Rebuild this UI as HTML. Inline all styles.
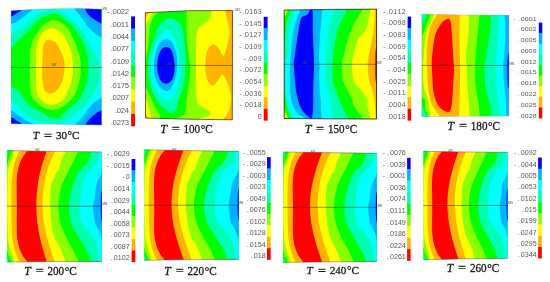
<!DOCTYPE html>
<html><head><meta charset="utf-8"><style>
html,body{margin:0;padding:0;background:#fff;}
svg{display:block;}
.lab{font-family:"Liberation Sans",sans-serif;text-anchor:middle;}
.mk{font-family:"Liberation Sans",sans-serif;font-size:3px;fill:#444;}
.cap{font-family:"Liberation Serif",serif;font-size:12.2px;fill:#1a1a1a;stroke:#1a1a1a;stroke-width:0.3px;}
.it{font-style:italic;}
</style></head><body>
<svg width="550" height="282" viewBox="0 0 550 282">
<defs><filter id="soft" x="0" y="0" width="550" height="282" filterUnits="userSpaceOnUse"><feGaussianBlur stdDeviation="0.5"/></filter></defs>
<rect width="550" height="282" fill="#fff"/>
<g filter="url(#soft)">
<clipPath id="clip0"><path d="M11.1 10.7 L35 9.3 L58 8.4 L80 8.5 L101.6 9.2 L101.6 125 L55 124.4 L11.1 123.7Z"/></clipPath>
<g clip-path="url(#clip0)">
<path d="M11.1 10.7 L35 9.3 L58 8.4 L80 8.5 L101.6 9.2 L101.6 125 L55 124.4 L11.1 123.7Z" fill="#00ffff"/>
<path d="M34 6 C33.75 6.58 33.58 8.25 32.5 9.5 C31.42 10.75 29.22 12.03 27.5 13.5 C25.78 14.97 24.12 16.88 22.2 18.3 C20.28 19.72 17.85 21.05 16 22 C14.15 22.95 12.43 23.42 11.1 24 C9.77 24.58 8.52 25.25 8 25.5 L5 25.5 L5 5 L34 5Z" fill="#00b2ff"/>
<path d="M23 6 C22.8 6.67 22.88 8.75 21.8 10 C20.72 11.25 18.28 12.37 16.5 13.5 C14.72 14.63 12.52 15.97 11.1 16.8 C9.68 17.63 8.52 18.22 8 18.5 L5 18.5 L5 5 L23 5Z" fill="#0000ff"/>
<path d="M73.5 5 C73.65 5.57 73.27 6.58 74.4 8.4 C75.53 10.22 78.07 12.92 80.3 15.9 C82.53 18.88 85.32 23.32 87.8 26.3 C90.28 29.28 92.9 31.93 95.2 33.8 C97.5 35.67 99.97 36.63 101.6 37.5 C103.23 38.37 104.43 38.75 105 39 L108 39 L108 5Z" fill="#00b2ff"/>
<path d="M85 5 C85.08 5.67 85.17 7.67 85.5 9 C85.83 10.33 85.88 11.48 87 13 C88.12 14.52 90.33 16.62 92.2 18.1 C94.07 19.58 96.63 21.02 98.2 21.9 C99.77 22.78 100.47 22.97 101.6 23.4 C102.73 23.83 104.43 24.32 105 24.5 L108 24.5 L108 5Z" fill="#0000ff"/>
<path d="M5 109 C6.02 109.22 8.6 109.05 11.1 110.3 C13.6 111.55 17.18 114.63 20 116.5 C22.82 118.37 25.72 120.2 28 121.5 C30.28 122.8 32.37 123.22 33.7 124.3 C35.03 125.38 35.62 127.38 36 128 L5 128Z" fill="#00b2ff"/>
<path d="M5 116 C6.02 116.17 9.18 116.25 11.1 117 C13.02 117.75 14.7 119.33 16.5 120.5 C18.3 121.67 20.82 122.75 21.9 124 C22.98 125.25 22.82 127.33 23 128 L5 128Z" fill="#0000ff"/>
<path d="M108 96 C106.93 96.28 103.98 96.55 101.6 97.7 C99.22 98.85 96 100.92 93.7 102.9 C91.4 104.88 89.78 107.12 87.8 109.6 C85.82 112.08 83.78 115.45 81.8 117.8 C79.82 120.15 77.2 122 75.9 123.7 C74.6 125.4 74.32 127.28 74 128 L108 128Z" fill="#00b2ff"/>
<path d="M108 109.5 C106.93 109.63 103.73 109.55 101.6 110.3 C99.47 111.05 97.25 112.5 95.2 114 C93.15 115.5 90.92 117.47 89.3 119.3 C87.68 121.13 86.22 123.55 85.5 125 C84.78 126.45 85.08 127.5 85 128 L108 128Z" fill="#0000ff"/>
<path d="M5 34 C6.02 34 9.35 34.42 11.1 34 C12.85 33.58 13.38 32.92 15.5 31.5 C17.62 30.08 20.88 27.83 23.8 25.5 C26.72 23.17 30.53 19.58 33 17.5 C35.47 15.42 36.6 14.12 38.6 13 C40.6 11.88 42.77 11.27 45 10.8 C47.23 10.33 49.67 10.25 52 10.2 C54.33 10.15 56.25 9.45 59 10.5 C61.75 11.55 65.67 14.42 68.5 16.5 C71.33 18.58 74 21 76 23 C78 25 79.07 26.58 80.5 28.5 C81.93 30.42 83.35 32.42 84.6 34.5 C85.85 36.58 86.77 38.67 88 41 C89.23 43.33 90.75 46.25 92 48.5 C93.25 50.75 94.42 52.5 95.5 54.5 C96.58 56.5 97.75 58.42 98.5 60.5 C99.25 62.58 99.83 64.08 100 67 C100.17 69.92 99.93 74.83 99.5 78 C99.07 81.17 98.37 83.43 97.4 86 C96.43 88.57 95.38 90.63 93.7 93.4 C92.02 96.17 89.25 100.17 87.3 102.6 C85.35 105.03 83.7 106.43 82 108 C80.3 109.57 79.43 110.08 77.1 112 C74.77 113.92 70.52 117.67 68 119.5 C65.48 121.33 64.17 122.28 62 123 C59.83 123.72 57.52 123.8 55 123.8 C52.48 123.8 49.78 123.53 46.9 123 C44.02 122.47 40.77 121.77 37.7 120.6 C34.63 119.43 31.58 118.18 28.5 116 C25.42 113.82 22.1 109.88 19.2 107.5 C16.3 105.12 13.47 102.67 11.1 101.7 C8.73 100.73 6.02 101.7 5 101.7Z" fill="#00ffb2"/>
<path d="M5 48 C6.02 48 9.18 49 11.1 48 C13.02 47 14.6 44 16.5 42 C18.4 40 20.5 37.92 22.5 36 C24.5 34.08 26.67 32.42 28.5 30.5 C30.33 28.58 31.67 26.37 33.5 24.5 C35.33 22.63 37.27 20.78 39.5 19.3 C41.73 17.82 44.65 16.48 46.9 15.6 C49.15 14.72 50.98 14.18 53 14 C55.02 13.82 57.17 13.67 59 14.5 C60.83 15.33 62.12 17.45 64 19 C65.88 20.55 68.47 22.13 70.3 23.8 C72.13 25.47 73.63 27.13 75 29 C76.37 30.87 77.32 33.17 78.5 35 C79.68 36.83 80.93 37.83 82.1 40 C83.27 42.17 84.6 45.33 85.5 48 C86.4 50.67 86.98 53 87.5 56 C88.02 59 88.48 62.67 88.6 66 C88.72 69.33 88.73 72.67 88.2 76 C87.67 79.33 86.47 82.8 85.4 86 C84.33 89.2 83.48 92.28 81.8 95.2 C80.12 98.12 77.52 101.2 75.3 103.5 C73.08 105.8 70.38 107.42 68.5 109 C66.62 110.58 65.42 111.58 64 113 C62.58 114.42 61.5 116.53 60 117.5 C58.5 118.47 56.42 118.75 55 118.8 C53.58 118.85 53.62 118.77 51.5 117.8 C49.38 116.83 45.38 114.72 42.3 113 C39.22 111.28 35.3 109 33 107.5 C30.7 106 30.03 105.47 28.5 104 C26.97 102.53 25.35 100.73 23.8 98.7 C22.25 96.67 20.83 93.58 19.2 91.8 C17.57 90.02 15.35 88.8 14 88 C12.65 87.2 12.6 87.17 11.1 87 C9.6 86.83 6.02 87 5 87Z" fill="#00ff00"/>
<path d="M29.8 60 C29.92 55.5 29.97 51.33 30.5 48 C31.03 44.67 31.95 42.33 33 40 C34.05 37.67 35.25 36.37 36.8 34 C38.35 31.63 40.15 27.93 42.3 25.8 C44.45 23.67 47.58 22.1 49.7 21.2 C51.82 20.3 53.28 20.3 55 20.4 C56.72 20.5 58.17 20.78 60 21.8 C61.83 22.82 64.25 24.63 66 26.5 C67.75 28.37 69.2 30.75 70.5 33 C71.8 35.25 72.72 37.5 73.8 40 C74.88 42.5 76.05 45.33 77 48 C77.95 50.67 78.87 53 79.5 56 C80.13 59 80.72 62.33 80.8 66 C80.88 69.67 80.47 74.67 80 78 C79.53 81.33 78.93 83.13 78 86 C77.07 88.87 76.23 92.28 74.4 95.2 C72.57 98.12 69.23 101.4 67 103.5 C64.77 105.6 63 106.75 61 107.8 C59 108.85 57.67 109.72 55 109.8 C52.33 109.88 48.03 109.5 45 108.3 C41.97 107.1 39.05 104.78 36.8 102.6 C34.55 100.42 32.58 97.97 31.5 95.2 C30.42 92.43 30.58 89.37 30.3 86 C30.02 82.63 29.88 79.33 29.8 75 C29.72 70.67 29.68 64.5 29.8 60Z" fill="#8aff00"/>
<path d="M35.9 60 C36 55.5 36.07 51.33 36.5 48 C36.93 44.67 37.68 42.33 38.5 40 C39.32 37.67 40.32 35.5 41.4 34 C42.48 32.5 43.78 31.8 45 31 C46.22 30.2 47.37 29.67 48.7 29.2 C50.03 28.73 51.53 28.1 53 28.2 C54.47 28.3 56.08 29 57.5 29.8 C58.92 30.6 60.33 31.8 61.5 33 C62.67 34.2 63.67 35.75 64.5 37 C65.33 38.25 65.67 38.83 66.5 40.5 C67.33 42.17 68.67 44.75 69.5 47 C70.33 49.25 70.93 50.83 71.5 54 C72.07 57.17 72.73 62.33 72.9 66 C73.07 69.67 73.02 72.67 72.5 76 C71.98 79.33 70.72 83.25 69.8 86 C68.88 88.75 67.93 90.5 67 92.5 C66.07 94.5 65.37 96.37 64.2 98 C63.03 99.63 61.53 101.25 60 102.3 C58.47 103.35 56.72 103.93 55 104.3 C53.28 104.67 51.45 104.8 49.7 104.5 C47.95 104.2 46.03 103.42 44.5 102.5 C42.97 101.58 41.63 100.22 40.5 99 C39.37 97.78 38.37 97.03 37.7 95.2 C37.03 93.37 36.8 91.37 36.5 88 C36.2 84.63 36 79.67 35.9 75 C35.8 70.33 35.8 64.5 35.9 60Z" fill="#ffff00"/>
<path d="M42.5 60 C42.63 56.33 42.58 50.92 43 48 C43.42 45.08 44.13 43.88 45 42.5 C45.87 41.12 46.87 39.95 48.2 39.7 C49.53 39.45 51.53 40.28 53 41 C54.47 41.72 55.67 42.17 57 44 C58.33 45.83 59.83 49.33 61 52 C62.17 54.67 63.38 57.5 64 60 C64.62 62.5 64.78 64.33 64.7 67 C64.62 69.67 64.12 73.17 63.5 76 C62.88 78.83 62.08 81.67 61 84 C59.92 86.33 58.5 88.42 57 90 C55.5 91.58 53.58 93 52 93.5 C50.42 94 48.83 93.75 47.5 93 C46.17 92.25 44.83 91.17 44 89 C43.17 86.83 42.8 83.17 42.5 80 C42.2 76.83 42.2 73.33 42.2 70 C42.2 66.67 42.37 63.67 42.5 60Z" fill="#ffb200"/>
</g>
<path d="M11.1 10.7 L35 9.3 L58 8.4 L80 8.5 L101.6 9.2 L101.6 125 L55 124.4 L11.1 123.7Z" fill="none" stroke="#999" stroke-width="0.4"/>
<line x1="11.1" y1="67.5" x2="101.6" y2="67.5" stroke="#000" stroke-opacity="0.5" stroke-width="0.85"/>
<text x="52" y="66.3" class="mk">MX</text>
<text x="102.3" y="9.8" class="mk">MN</text>
<rect x="131.1" y="16.4" width="3.9" height="12.48" fill="#0000ff"/>
<rect x="131.1" y="28.58" width="3.9" height="12.48" fill="#00b2ff"/>
<rect x="131.1" y="40.76" width="3.9" height="12.48" fill="#00ffff"/>
<rect x="131.1" y="52.94" width="3.9" height="12.48" fill="#00ffb2"/>
<rect x="131.1" y="65.12" width="3.9" height="12.48" fill="#00ff00"/>
<rect x="131.1" y="77.3" width="3.9" height="12.48" fill="#8aff00"/>
<rect x="131.1" y="89.48" width="3.9" height="12.48" fill="#ffff00"/>
<rect x="131.1" y="101.66" width="3.9" height="12.48" fill="#ffb200"/>
<rect x="131.1" y="113.84" width="3.9" height="12.48" fill="#ff0000"/>
<text transform="scale(1.12,1)" x="96.92 99.96 102.46 106.09 109.73 113.36" y="14.37" class="lab" font-size="6.9" fill="#5a5a5a">-.0022</text>
<text transform="scale(1.12,1)" x="99.96 102.46 106.09 109.73 113.36" y="26.67" class="lab" font-size="6.9" fill="#5a5a5a">.0011</text>
<text transform="scale(1.12,1)" x="99.96 102.46 106.09 109.73 113.36" y="38.97" class="lab" font-size="6.9" fill="#5a5a5a">.0044</text>
<text transform="scale(1.12,1)" x="99.96 102.46 106.09 109.73 113.36" y="51.27" class="lab" font-size="6.9" fill="#5a5a5a">.0077</text>
<text transform="scale(1.12,1)" x="99.96 102.46 106.09 109.73 113.36" y="63.57" class="lab" font-size="6.9" fill="#5a5a5a">.0109</text>
<text transform="scale(1.12,1)" x="99.96 102.46 106.09 109.73 113.36" y="75.87" class="lab" font-size="6.9" fill="#5a5a5a">.0142</text>
<text transform="scale(1.12,1)" x="99.96 102.46 106.09 109.73 113.36" y="88.17" class="lab" font-size="6.9" fill="#5a5a5a">.0175</text>
<text transform="scale(1.12,1)" x="99.96 102.46 106.09 109.73 113.36" y="100.47" class="lab" font-size="6.9" fill="#5a5a5a">.0207</text>
<text transform="scale(1.12,1)" x="103.59 106.09 109.73 113.36" y="112.77" class="lab" font-size="6.9" fill="#5a5a5a">.024</text>
<text transform="scale(1.12,1)" x="99.96 102.46 106.09 109.73 113.36" y="125.07" class="lab" font-size="6.9" fill="#5a5a5a">.0273</text>
<text y="138.8" class="cap" style="font-size:11.3px"><tspan x="32.7" class="it">T</tspan><tspan x="44.1" textLength="8" lengthAdjust="spacingAndGlyphs">=</tspan><tspan x="55.9" textLength="11.1" lengthAdjust="spacingAndGlyphs">30</tspan><tspan x="67.6" textLength="12" lengthAdjust="spacingAndGlyphs">°C</tspan></text>
<clipPath id="clip1"><path d="M145.3 12.7 L190 10.7 L232.5 10.5 L232.3 119.8 L190 119.2 L145.5 118.1Z"/></clipPath>
<g clip-path="url(#clip1)">
<path d="M145.3 12.7 L190 10.7 L232.5 10.5 L232.3 119.8 L190 119.2 L145.5 118.1Z" fill="#ffff00"/>
<path d="M225 5 C225.03 5.93 224.95 8.6 225.2 10.6 C225.45 12.6 225.93 14.6 226.5 17 C227.07 19.4 228.1 22.5 228.6 25 C229.1 27.5 229.48 29.5 229.5 32 C229.52 34.5 229.2 37.33 228.7 40 C228.2 42.67 227.38 45.37 226.5 48 C225.62 50.63 224.57 55.55 223.4 55.8 C222.23 56.05 220.73 51.22 219.5 49.5 C218.27 47.78 217.17 46.3 216 45.5 C214.83 44.7 213.75 44.28 212.5 44.7 C211.25 45.12 209.58 46.28 208.5 48 C207.42 49.72 206.53 52.17 206 55 C205.47 57.83 205.3 61.67 205.3 65 C205.3 68.33 205.5 72.25 206 75 C206.5 77.75 207.3 79.75 208.3 81.5 C209.3 83.25 210.72 85.25 212 85.5 C213.28 85.75 214.78 84.17 216 83 C217.22 81.83 218.22 79.9 219.3 78.5 C220.38 77.1 221.28 74.22 222.5 74.6 C223.72 74.98 225.45 78.45 226.6 80.8 C227.75 83.15 228.65 85.83 229.4 88.7 C230.15 91.57 230.9 95.78 231.1 98 C231.3 100.22 230.92 100 230.6 102 C230.28 104 230.03 107.67 229.2 110 C228.37 112.33 226.58 114.38 225.6 116 C224.62 117.62 223.73 118.2 223.3 119.7 C222.87 121.2 223.05 124.12 223 125 L240 125 L240 5Z" fill="#ffb200"/>
<path d="M211.5 5 C211.42 5.92 211.08 9 211 10.5 C210.92 12 211.1 12.88 211 14 C210.9 15.12 210.82 16.12 210.4 17.2 C209.98 18.28 209.72 19.27 208.5 20.5 C207.28 21.73 204.77 23.3 203.1 24.6 C201.43 25.9 199.58 26.73 198.5 28.3 C197.42 29.87 197.02 31.22 196.6 34 C196.18 36.78 196.1 39.83 196 45 C195.9 50.17 195.95 58.33 196 65 C196.05 71.67 196.23 79.83 196.3 85 C196.37 90.17 196.08 92.93 196.4 96 C196.72 99.07 196.98 101.4 198.2 103.4 C199.42 105.4 201.7 106.62 203.7 108 C205.7 109.38 209.27 110.47 210.2 111.7 C211.13 112.93 210.68 114.33 209.3 115.4 C207.92 116.47 204.12 117.33 201.9 118.1 C199.68 118.87 197.15 118.85 196 120 C194.85 121.15 195.17 124.17 195 125 L140 125 L140 5Z" fill="#8aff00"/>
<path d="M186.5 5 C186.5 5.95 186.5 7.37 186.5 10.7 C186.5 14.03 186.33 19.28 186.5 25 C186.67 30.72 187.03 39.17 187.5 45 C187.97 50.83 188.88 56.67 189.3 60 C189.72 63.33 189.97 61.67 190 65 C190.03 68.33 189.92 75.5 189.5 80 C189.08 84.5 188.05 87.83 187.5 92 C186.95 96.17 186.72 101.33 186.2 105 C185.68 108.67 185.6 111.92 184.4 114 C183.2 116.08 180.9 116.58 179 117.5 C177.1 118.42 174.17 118.25 173 119.5 C171.83 120.75 172.17 124.08 172 125 L160.5 125 C160.5 124.17 160.67 121.75 160.5 120 C160.33 118.25 160.08 116.17 159.5 114.5 C158.92 112.83 158 111.75 157 110 C156 108.25 154.62 106.33 153.5 104 C152.38 101.67 151.3 98.17 150.3 96 C149.3 93.83 148.33 92.5 147.5 91 C146.67 89.5 146.55 87.67 145.3 87 C144.05 86.33 140.88 87 140 87 L140 58 C140.88 58 144.05 59.33 145.3 58 C146.55 56.67 146.95 52.67 147.5 50 C148.05 47.33 148.28 44.67 148.6 42 C148.92 39.33 149.08 36.83 149.4 34 C149.72 31.17 149.82 27.83 150.5 25 C151.18 22.17 152.25 19.25 153.5 17 C154.75 14.75 157.17 13.5 158 11.5 C158.83 9.5 158.42 6.08 158.5 5Z" fill="#00ff00"/>
<path d="M171 18.3 C173.33 18.47 176.17 19.88 178 21.5 C179.83 23.12 180.92 24.92 182 28 C183.08 31.08 183.93 35.5 184.5 40 C185.07 44.5 185.25 50.83 185.4 55 C185.55 59.17 185.55 61.17 185.4 65 C185.25 68.83 184.98 73.83 184.5 78 C184.02 82.17 183.28 87 182.5 90 C181.72 93 180.72 93.17 179.8 96 C178.88 98.83 178.08 104.27 177 107 C175.92 109.73 174.38 111.4 173.3 112.4 C172.22 113.4 171.72 113.48 170.5 113 C169.28 112.52 167.67 110.8 166 109.5 C164.33 108.2 162.25 107.12 160.5 105.2 C158.75 103.28 157.08 100.87 155.5 98 C153.92 95.13 152.18 91.67 151 88 C149.82 84.33 148.9 79.83 148.4 76 C147.9 72.17 147.9 68.33 148 65 C148.1 61.67 148.42 59.17 149 56 C149.58 52.83 150.42 49.67 151.5 46 C152.58 42.33 154.25 37.33 155.5 34 C156.75 30.67 157.58 28.25 159 26 C160.42 23.75 162 21.78 164 20.5 C166 19.22 168.67 18.13 171 18.3Z" fill="#00ffb2"/>
<path d="M167.5 29.2 C169.18 29.28 170.98 31.87 172.4 34 C173.82 36.13 174.93 39 176 42 C177.07 45 178.17 48.17 178.8 52 C179.43 55.83 179.7 61.17 179.8 65 C179.9 68.83 179.78 71.5 179.4 75 C179.02 78.5 178.35 82.67 177.5 86 C176.65 89.33 175.47 92.75 174.3 95 C173.13 97.25 171.63 98.57 170.5 99.5 C169.37 100.43 168.58 100.55 167.5 100.6 C166.42 100.65 165.17 100.57 164 99.8 C162.83 99.03 162 97.8 160.5 96 C159 94.2 156.45 91.67 155 89 C153.55 86.33 152.5 83.17 151.8 80 C151.1 76.83 150.93 73.33 150.8 70 C150.67 66.67 150.55 63.33 151 60 C151.45 56.67 152.5 53.17 153.5 50 C154.5 46.83 155.53 43.75 157 41 C158.47 38.25 160.55 35.47 162.3 33.5 C164.05 31.53 165.82 29.12 167.5 29.2Z" fill="#00ffff"/>
<path d="M167 39.2 C168.5 39.37 170.17 39.87 171.5 41.5 C172.83 43.13 174.08 46.25 175 49 C175.92 51.75 176.65 55.33 177 58 C177.35 60.67 177.18 62.67 177.1 65 C177.02 67.33 176.82 69.83 176.5 72 C176.18 74.17 175.78 75.83 175.2 78 C174.62 80.17 173.87 83.08 173 85 C172.13 86.92 171 88.52 170 89.5 C169 90.48 168.08 90.82 167 90.9 C165.92 90.98 164.83 90.82 163.5 90 C162.17 89.18 160.33 87.83 159 86 C157.67 84.17 156.33 81.67 155.5 79 C154.67 76.33 154.25 72.83 154 70 C153.75 67.17 153.75 64.83 154 62 C154.25 59.17 154.75 55.83 155.5 53 C156.25 50.17 157.33 47.08 158.5 45 C159.67 42.92 161.08 41.47 162.5 40.5 C163.92 39.53 165.5 39.03 167 39.2Z" fill="#00b2ff"/>
<path d="M166 47.1 C167.33 47.18 169.27 47.52 170.5 49 C171.73 50.48 172.7 53.33 173.4 56 C174.1 58.67 174.57 62.17 174.7 65 C174.83 67.83 174.57 70.67 174.2 73 C173.83 75.33 173.28 77.42 172.5 79 C171.72 80.58 170.58 81.75 169.5 82.5 C168.42 83.25 167.17 83.5 166 83.5 C164.83 83.5 163.58 83.42 162.5 82.5 C161.42 81.58 160.33 79.92 159.5 78 C158.67 76.08 157.88 73.17 157.5 71 C157.12 68.83 157.12 67.17 157.2 65 C157.28 62.83 157.53 60.17 158 58 C158.47 55.83 159.25 53.58 160 52 C160.75 50.42 161.5 49.32 162.5 48.5 C163.5 47.68 164.67 47.02 166 47.1Z" fill="#0000ff"/>
<path d="M153 5 C152.97 6.27 153.3 10.52 152.8 12.6 C152.3 14.68 150.97 15.77 150 17.5 C149.03 19.23 147.78 21.5 147 23 C146.22 24.5 146.47 25.92 145.3 26.5 C144.13 27.08 140.88 26.5 140 26.5 L140 5Z" fill="#ffff00"/>
<path d="M148.2 5 C148.17 6.3 148.2 11.05 148 12.8 C147.8 14.55 147.45 14.73 147 15.5 C146.55 16.27 146.47 17.08 145.3 17.4 C144.13 17.72 140.88 17.4 140 17.4 L140 5Z" fill="#ffb200"/>
<path d="M140 100 C140.9 100.08 144.15 99.83 145.4 100.5 C146.65 101.17 146.82 102.25 147.5 104 C148.18 105.75 148.8 108.65 149.5 111 C150.2 113.35 151.28 115.77 151.7 118.1 C152.12 120.43 151.95 123.85 152 125 L140 125Z" fill="#ffff00"/>
<path d="M140 113.3 C140.92 113.3 144.33 112.85 145.5 113.3 C146.67 113.75 146.58 115.18 147 116 C147.42 116.82 147.83 116.7 148 118.2 C148.17 119.7 148 123.87 148 125 L140 125Z" fill="#ffb200"/>
</g>
<path d="M145.3 12.7 L190 10.7 L232.5 10.5 L232.3 119.8 L190 119.2 L145.5 118.1Z" fill="none" stroke="#3a2510" stroke-width="0.7"/>
<line x1="145.3" y1="65.4" x2="232.5" y2="65.4" stroke="#000" stroke-opacity="0.5" stroke-width="0.85"/>
<text x="166.5" y="64.6" class="mk">MN</text>
<text x="235.5" y="11" class="mk">MX</text>
<rect x="263.7" y="16.8" width="3.9" height="11.81" fill="#0000ff"/>
<rect x="263.7" y="28.31" width="3.9" height="11.81" fill="#00b2ff"/>
<rect x="263.7" y="39.82" width="3.9" height="11.81" fill="#00ffff"/>
<rect x="263.7" y="51.33" width="3.9" height="11.81" fill="#00ffb2"/>
<rect x="263.7" y="62.84" width="3.9" height="11.81" fill="#00ff00"/>
<rect x="263.7" y="74.35" width="3.9" height="11.81" fill="#8aff00"/>
<rect x="263.7" y="85.86" width="3.9" height="11.81" fill="#ffff00"/>
<rect x="263.7" y="97.37" width="3.9" height="11.81" fill="#ffb200"/>
<rect x="263.7" y="108.88" width="3.9" height="11.81" fill="#ff0000"/>
<text transform="scale(1.12,1)" x="214.58 217.88 220.47 224.26 228.06 231.85" y="14.26" class="lab" font-size="6.3" fill="#5a5a5a">-.0163</text>
<text transform="scale(1.12,1)" x="214.58 217.88 220.47 224.26 228.06 231.85" y="25.87" class="lab" font-size="6.3" fill="#5a5a5a">-.0145</text>
<text transform="scale(1.12,1)" x="214.58 217.88 220.47 224.26 228.06 231.85" y="37.48" class="lab" font-size="6.3" fill="#5a5a5a">-.0127</text>
<text transform="scale(1.12,1)" x="214.58 217.88 220.47 224.26 228.06 231.85" y="49.09" class="lab" font-size="6.3" fill="#5a5a5a">-.0109</text>
<text transform="scale(1.12,1)" x="218.37 221.67 224.26 228.06 231.85" y="60.7" class="lab" font-size="6.3" fill="#5a5a5a">-.009</text>
<text transform="scale(1.12,1)" x="214.58 217.88 220.47 224.26 228.06 231.85" y="72.31" class="lab" font-size="6.3" fill="#5a5a5a">-.0072</text>
<text transform="scale(1.12,1)" x="214.58 217.88 220.47 224.26 228.06 231.85" y="83.92" class="lab" font-size="6.3" fill="#5a5a5a">-.0054</text>
<text transform="scale(1.12,1)" x="214.58 217.88 220.47 224.26 228.06 231.85" y="95.53" class="lab" font-size="6.3" fill="#5a5a5a">-.0036</text>
<text transform="scale(1.12,1)" x="214.58 217.88 220.47 224.26 228.06 231.85" y="107.14" class="lab" font-size="6.3" fill="#5a5a5a">-.0018</text>
<text transform="scale(1.12,1)" x="231.85" y="118.76" class="lab" font-size="6.3" fill="#5a5a5a">0</text>
<text y="133.3" class="cap" style="font-size:12.2px"><tspan x="160.3" class="it">T</tspan><tspan x="171.7" textLength="8" lengthAdjust="spacingAndGlyphs">=</tspan><tspan x="183.5" textLength="16.65" lengthAdjust="spacingAndGlyphs">100</tspan><tspan x="200.75" textLength="12" lengthAdjust="spacingAndGlyphs">°C</tspan></text>
<clipPath id="clip2"><path d="M284.2 10.1 L330 9.4 L376.5 9.2 L376.5 119 L330 118.8 L284.2 118.5Z"/></clipPath>
<g clip-path="url(#clip2)">
<path d="M284.2 10.1 L330 9.4 L376.5 9.2 L376.5 119 L330 118.8 L284.2 118.5Z" fill="#00ffff"/>
<path d="M333.5 5 C333.5 5.83 334.33 5.83 333.5 10 C332.67 14.17 329.73 22.33 328.5 30 C327.27 37.67 326.52 50.33 326.1 56 C325.68 61.67 326.02 59.83 326 64 C325.98 68.17 325.37 75.33 326 81 C326.63 86.67 328.63 92 329.8 98 C330.97 104 332.3 112.5 333 117 C333.7 121.5 333.83 123.67 334 125 L380 125 L380 5Z" fill="#00ffb2"/>
<path d="M347.5 5 C347.4 5.83 348.55 5.83 346.9 10 C345.25 14.17 339.9 22.33 337.6 30 C335.3 37.67 333.93 50.33 333.1 56 C332.27 61.67 332.62 59.83 332.6 64 C332.58 68.17 332 75.33 333 81 C334 86.67 337.13 93.83 338.6 98 C340.07 102.17 340.42 102.92 341.8 106 C343.18 109.08 345.87 113.33 346.9 116.5 C347.93 119.67 347.82 123.58 348 125 L380 125 L380 5Z" fill="#00ff00"/>
<path d="M363 5 C362.85 5.83 364.08 5.83 362.1 10 C360.12 14.17 354.22 22.33 351.1 30 C347.98 37.67 344.95 50.33 343.4 56 C341.85 61.67 341.83 59.83 341.8 64 C341.77 68.17 341.58 75.33 343.2 81 C344.82 86.67 349.7 93.83 351.5 98 C353.3 102.17 352.3 102.92 354 106 C355.7 109.08 360.2 113.33 361.7 116.5 C363.2 119.67 362.78 123.58 363 125 L380 125 L380 5Z" fill="#8aff00"/>
<path d="M371 5 C370.9 5.83 371.27 5.83 370.4 10 C369.53 14.17 367.8 25.17 365.8 30 C363.8 34.83 360.48 34.67 358.4 39 C356.32 43.33 354.37 51.83 353.3 56 C352.23 60.17 351.92 59.83 352 64 C352.08 68.17 352.47 76.83 353.8 81 C355.13 85.17 357.85 86.17 360 89 C362.15 91.83 365.45 95.17 366.7 98 C367.95 100.83 366.95 102.92 367.5 106 C368.05 109.08 369.42 113.33 370 116.5 C370.58 119.67 370.83 123.58 371 125 L380 125 L380 5Z" fill="#ffff00"/>
<path d="M375.2 5 C375.17 5.83 375.25 5.83 375 10 C374.75 14.17 374.37 24.17 373.7 30 C373.03 35.83 371.85 40.67 371 45 C370.15 49.33 369.15 52.83 368.6 56 C368.05 59.17 367.63 60 367.7 64 C367.77 68 368.23 75.83 369 80 C369.77 84.17 371.45 86 372.3 89 C373.15 92 373.65 95.17 374.1 98 C374.55 100.83 374.77 102.92 375 106 C375.23 109.08 375.33 113.33 375.5 116.5 C375.67 119.67 375.92 123.58 376 125 L380 125 L380 5Z" fill="#ffb200"/>
<path d="M378 42 C377.6 43.33 376.07 46.33 375.6 50 C375.13 53.67 375.22 59 375.2 64 C375.18 69 375.03 76.33 375.5 80 C375.97 83.67 377.58 85 378 86 L380 86 L380 42Z" fill="#ff0000"/>
<path d="M295 5 C294.8 6 294.72 6.83 293.8 11 C292.88 15.17 290.5 22.5 289.5 30 C288.5 37.5 288.47 50.33 287.8 56 C287.13 61.67 285.88 60 285.5 64 C285.12 68 285.33 74.38 285.5 80 C285.67 85.62 285.88 92.6 286.5 97.7 C287.12 102.8 287.98 107.17 289.2 110.6 C290.42 114.03 292.83 115.9 293.8 118.3 C294.77 120.7 294.8 123.88 295 125 L280 125 L280 5Z" fill="#00ffb2"/>
<path d="M291 5 C290.85 6 290.68 8.5 290.1 11 C289.52 13.5 288.22 16.83 287.5 20 C286.78 23.17 286.28 25.83 285.8 30 C285.32 34.17 285.57 41.67 284.6 45 C283.63 48.33 280.77 49.17 280 50 L280 5Z" fill="#00ff00"/>
<path d="M280 90 C280.73 90.33 283.48 90.67 284.4 92 C285.32 93.33 285.08 95.67 285.5 98 C285.92 100.33 286.13 102.92 286.9 106 C287.67 109.08 289.42 113.33 290.1 116.5 C290.78 119.67 290.85 123.58 291 125 L280 125Z" fill="#00ff00"/>
<path d="M288 5 C287.92 6 287.92 9.17 287.5 11 C287.08 12.83 286.75 14.83 285.5 16 C284.25 17.17 280.92 17.67 280 18 L280 5Z" fill="#8aff00"/>
<path d="M287 5 C286.95 5.92 286.95 9.17 286.7 10.5 C286.45 11.83 285.92 12.33 285.5 13 C285.08 13.67 285.12 14.25 284.2 14.5 C283.28 14.75 280.7 14.5 280 14.5 L280 5Z" fill="#ffff00"/>
<path d="M280 109 C280.83 109.33 283.75 109.75 285 111 C286.25 112.25 286.92 114.17 287.5 116.5 C288.08 118.83 288.33 123.58 288.5 125 L280 125Z" fill="#8aff00"/>
<path d="M280 113.7 C280.75 113.7 283.42 113.15 284.5 113.7 C285.58 114.25 286.08 115.12 286.5 117 C286.92 118.88 286.92 123.67 287 125 L280 125Z" fill="#ffff00"/>
<path d="M322.4 5 C322.4 5.83 322.72 5.83 322.4 10 C322.08 14.17 321.07 22.33 320.5 30 C319.93 37.67 319.17 50.33 319 56 C318.83 61.67 319.47 59.83 319.5 64 C319.53 68.17 319.03 75.33 319.2 81 C319.37 86.67 320.2 93.83 320.5 98 C320.8 102.17 320.83 102.83 321 106 C321.17 109.17 321.42 113.83 321.5 117 C321.58 120.17 321.5 123.67 321.5 125 L305 125 C304.83 123.88 304.92 119.97 304 118.3 C303.08 116.63 300.73 115.98 299.5 115 C298.27 114.02 297.6 113.73 296.6 112.4 C295.6 111.07 294.27 108.53 293.5 107 C292.73 105.47 292.45 105.03 292 103.2 C291.55 101.37 291.12 98.45 290.8 96 C290.48 93.55 290.27 91.5 290.1 88.5 C289.93 85.5 289.8 82.08 289.8 78 C289.8 73.92 289.97 67.67 290.1 64 C290.23 60.33 290.08 61.67 290.6 56 C291.12 50.33 291.67 37.5 293.2 30 C294.73 22.5 298.5 15.17 299.8 11 C301.1 6.83 300.8 6 301 5Z" fill="#00b2ff"/>
<path d="M311 8 C311.83 7.63 312.4 8.33 312.7 12 C313 15.67 312.67 23.67 312.8 30 C312.93 36.33 313.3 44.33 313.5 50 C313.7 55.67 314 59 314 64 C314 69 313.63 74.83 313.5 80 C313.37 85.17 313.25 90.5 313.2 95 C313.15 99.5 313.32 103.83 313.2 107 C313.08 110.17 312.8 111.92 312.5 114 C312.2 116.08 311.9 118.9 311.4 119.5 C310.9 120.1 310.58 118.62 309.5 117.6 C308.42 116.58 306.43 115.18 304.9 113.4 C303.37 111.62 301.53 109.52 300.3 106.9 C299.07 104.28 298.27 100.77 297.5 97.7 C296.73 94.63 296.15 91.78 295.7 88.5 C295.25 85.22 295.12 82.08 294.8 78 C294.48 73.92 293.8 67.67 293.8 64 C293.8 60.33 294.27 60 294.8 56 C295.33 52 296.38 44.17 297 40 C297.62 35.83 298.03 33.75 298.5 31 C298.97 28.25 299.2 25.83 299.8 23.5 C300.4 21.17 300.78 18.55 302.1 17 C303.42 15.45 306.22 15.7 307.7 14.2 C309.18 12.7 310.17 8.37 311 8Z" fill="#0000ff"/>
</g>
<path d="M284.2 10.1 L330 9.4 L376.5 9.2 L376.5 119 L330 118.8 L284.2 118.5Z" fill="none" stroke="#2a1a10" stroke-width="0.8"/>
<line x1="284.2" y1="64.3" x2="376.5" y2="64.3" stroke="#000" stroke-opacity="0.5" stroke-width="0.85"/>
<text x="302.6" y="63.6" class="mk">MN</text>
<text x="377.2" y="63.6" class="mk">MX</text>
<rect x="407.6" y="16.6" width="3.5" height="11.83" fill="#0000ff"/>
<rect x="407.6" y="28.13" width="3.5" height="11.83" fill="#00b2ff"/>
<rect x="407.6" y="39.66" width="3.5" height="11.83" fill="#00ffff"/>
<rect x="407.6" y="51.19" width="3.5" height="11.83" fill="#00ffb2"/>
<rect x="407.6" y="62.72" width="3.5" height="11.83" fill="#00ff00"/>
<rect x="407.6" y="74.25" width="3.5" height="11.83" fill="#8aff00"/>
<rect x="407.6" y="85.78" width="3.5" height="11.83" fill="#ffff00"/>
<rect x="407.6" y="97.31" width="3.5" height="11.83" fill="#ffb200"/>
<rect x="407.6" y="108.84" width="3.5" height="11.83" fill="#ff0000"/>
<text transform="scale(1.12,1)" x="343.15 346.45 349.04 352.83 356.63 360.42" y="13.76" class="lab" font-size="6.3" fill="#5a5a5a">-.0112</text>
<text transform="scale(1.12,1)" x="343.15 346.45 349.04 352.83 356.63 360.42" y="25.42" class="lab" font-size="6.3" fill="#5a5a5a">-.0098</text>
<text transform="scale(1.12,1)" x="343.15 346.45 349.04 352.83 356.63 360.42" y="37.09" class="lab" font-size="6.3" fill="#5a5a5a">-.0083</text>
<text transform="scale(1.12,1)" x="343.15 346.45 349.04 352.83 356.63 360.42" y="48.76" class="lab" font-size="6.3" fill="#5a5a5a">-.0069</text>
<text transform="scale(1.12,1)" x="343.15 346.45 349.04 352.83 356.63 360.42" y="60.42" class="lab" font-size="6.3" fill="#5a5a5a">-.0054</text>
<text transform="scale(1.12,1)" x="346.94 350.25 352.83 356.63 360.42" y="72.09" class="lab" font-size="6.3" fill="#5a5a5a">-.004</text>
<text transform="scale(1.12,1)" x="343.15 346.45 349.04 352.83 356.63 360.42" y="83.76" class="lab" font-size="6.3" fill="#5a5a5a">-.0025</text>
<text transform="scale(1.12,1)" x="343.15 346.45 349.04 352.83 356.63 360.42" y="95.42" class="lab" font-size="6.3" fill="#5a5a5a">-.0011</text>
<text transform="scale(1.12,1)" x="346.45 349.04 352.83 356.63 360.42" y="107.09" class="lab" font-size="6.3" fill="#5a5a5a">.0004</text>
<text transform="scale(1.12,1)" x="346.45 349.04 352.83 356.63 360.42" y="118.76" class="lab" font-size="6.3" fill="#5a5a5a">.0018</text>
<text y="133" class="cap" style="font-size:12.2px"><tspan x="304.7" class="it">T</tspan><tspan x="316.1" textLength="8" lengthAdjust="spacingAndGlyphs">=</tspan><tspan x="327.9" textLength="16.65" lengthAdjust="spacingAndGlyphs">150</tspan><tspan x="345.15" textLength="12" lengthAdjust="spacingAndGlyphs">°C</tspan></text>
<clipPath id="clip3"><path d="M421.9 14.2 L440 14.6 L460 15 L508.9 15.2 L508.9 116.1 L460 116.3 L421.9 116.6Z"/></clipPath>
<g clip-path="url(#clip3)">
<path d="M421.9 14.2 L440 14.6 L460 15 L508.9 15.2 L508.9 116.1 L460 116.3 L421.9 116.6Z" fill="#ffff00"/>
<path d="M468.6 8 C468.6 9.33 468.6 11.67 468.6 16 C468.6 20.33 468.95 28.33 468.6 34 C468.25 39.67 466.93 45.67 466.5 50 C466.07 54.33 465.95 57.4 466 60 C466.05 62.6 466.6 61.77 466.8 65.6 C467 69.43 466.82 75.93 467.2 83 C467.58 90.07 468.72 102.5 469.1 108 C469.48 113.5 469.42 113.67 469.5 116 C469.58 118.33 469.58 121 469.6 122 L515 122 L515 8Z" fill="#8aff00"/>
<path d="M479.5 8 C479.45 9.38 479.48 11.97 479.2 16.3 C478.92 20.63 478.45 26.72 477.8 34 C477.15 41.28 475.75 54.73 475.3 60 C474.85 65.27 475.07 61.6 475.1 65.6 C475.13 69.6 475.1 78.6 475.5 84 C475.9 89.4 476.88 94 477.5 98 C478.12 102 478.87 105 479.2 108 C479.53 111 479.43 113.67 479.5 116 C479.57 118.33 479.58 121 479.6 122 L515 122 L515 8Z" fill="#00ff00"/>
<path d="M491.5 8 C491.45 9.38 491.52 11.97 491.2 16.3 C490.88 20.63 490.48 26.72 489.6 34 C488.72 41.28 486.73 54.73 485.9 60 C485.07 65.27 484.75 61.77 484.6 65.6 C484.45 69.43 484.43 77.77 485 83 C485.57 88.23 487.03 92.83 488 97 C488.97 101.17 490.27 104.83 490.8 108 C491.33 111.17 491.1 113.67 491.2 116 C491.3 118.33 491.37 121 491.4 122 L515 122 L515 8Z" fill="#00ffb2"/>
<path d="M499.3 8 C499.27 9.38 499.25 11.97 499.1 16.3 C498.95 20.63 498.95 26.72 498.4 34 C497.85 41.28 496.3 54.73 495.8 60 C495.3 65.27 495.37 61.77 495.4 65.6 C495.43 69.43 495.6 77.77 496 83 C496.4 88.23 497.22 92.83 497.8 97 C498.38 101.17 499.05 104.83 499.5 108 C499.95 111.17 500.28 113.67 500.5 116 C500.72 118.33 500.75 121 500.8 122 L515 122 L515 8Z" fill="#00ffff"/>
<path d="M504.4 8 C504.43 9.38 504.42 11.97 504.6 16.3 C504.78 20.63 505.65 26.72 505.5 34 C505.35 41.28 504.08 54.73 503.7 60 C503.32 65.27 503.15 61.77 503.2 65.6 C503.25 69.43 503.62 77.77 504 83 C504.38 88.23 505.13 92.83 505.5 97 C505.87 101.17 506.05 104.83 506.2 108 C506.35 111.17 506.35 113.67 506.4 116 C506.45 118.33 506.48 121 506.5 122 L515 122 L515 8Z" fill="#00b2ff"/>
<path d="M512 48 C511.48 48.67 509.67 50 508.9 52 C508.13 54 507.65 57.73 507.4 60 C507.15 62.27 507.33 61.6 507.4 65.6 C507.47 69.6 507.55 80.27 507.8 84 C508.05 87.73 508.2 87 508.9 88 C509.6 89 511.48 89.67 512 90 L515 90 L515 48Z" fill="#0000ff"/>
<path d="M435 8 C434.78 9.25 434.53 12.87 433.7 15.5 C432.87 18.13 431.35 20.55 430 23.8 C428.65 27.05 426.68 28.97 425.6 35 C424.52 41.03 423.92 54.9 423.5 60 C423.08 65.1 423.1 61.6 423.1 65.6 C423.1 69.6 423.1 79.43 423.5 84 C423.9 88.57 424.73 90.33 425.5 93 C426.27 95.67 427.5 97.5 428.1 100 C428.7 102.5 428.7 105.38 429.1 108 C429.5 110.62 430.18 113.37 430.5 115.7 C430.82 118.03 430.92 120.95 431 122 L415 122 L415 8Z" fill="#8aff00"/>
<path d="M432 8 C431.75 9.25 431.37 12.87 430.5 15.5 C429.63 18.13 428.03 20.72 426.8 23.8 C425.57 26.88 424.23 31.3 423.1 34 C421.97 36.7 420.52 39 420 40 L415 40 L415 8Z" fill="#00ff00"/>
<path d="M420 95 C420.5 95.5 422.18 97.17 423 98 C423.82 98.83 424.5 98.33 424.9 100 C425.3 101.67 424.87 105.38 425.4 108 C425.93 110.62 427.5 113.37 428.1 115.7 C428.7 118.03 428.85 120.95 429 122 L415 122Z" fill="#00ff00"/>
<path d="M427 8 C426.8 9.25 426.47 12.83 425.8 15.5 C425.13 18.17 423.72 21.92 423 24 C422.28 26.08 422.17 27 421.5 28 C420.83 29 419.42 29.67 419 30 L415 30 L415 8Z" fill="#00ffb2"/>
<path d="M419 103 C419.48 103.5 421.22 105.17 421.9 106 C422.58 106.83 422.58 107 423.1 108 C423.62 109 424.52 110.57 425 112 C425.48 113.43 425.75 114.93 426 116.6 C426.25 118.27 426.42 121.1 426.5 122 L415 122Z" fill="#00ffb2"/>
<path d="M424.8 8 C424.67 9.25 424.38 13.75 424 15.5 C423.62 17.25 422.85 17.78 422.5 18.5 C422.15 19.22 422.48 19.47 421.9 19.8 C421.32 20.13 419.48 20.38 419 20.5 L415 20.5 L415 8Z" fill="#00ffff"/>
<path d="M419 110 C419.48 110.17 421.15 110.05 421.9 111 C422.65 111.95 423.15 113.87 423.5 115.7 C423.85 117.53 423.92 120.95 424 122 L415 122Z" fill="#00ffff"/>
<path d="M459.5 8 C459.5 9.25 459.5 10.83 459.5 15.5 C459.5 20.17 459.42 28.58 459.5 36 C459.58 43.42 459.92 52 460 60 C460.08 68 460.08 77.33 460 84 C459.92 90.67 459.65 96 459.5 100 C459.35 104 459.18 105.33 459.1 108 C459.02 110.67 459.02 113.67 459 116 C458.98 118.33 459 121 459 122 L440 122 C439.85 120.92 439.85 117.4 439.1 115.5 C438.35 113.6 436.6 112.18 435.5 110.6 C434.4 109.02 433.28 107.53 432.5 106 C431.72 104.47 431.53 104.32 430.8 101.4 C430.07 98.48 428.72 93.73 428.1 88.5 C427.48 83.27 427.35 74.75 427.1 70 C426.85 65.25 426.6 64.18 426.6 60 C426.6 55.82 426.7 49.57 427.1 44.9 C427.5 40.23 428.22 35.68 429 32 C429.78 28.32 430.57 25.57 431.8 22.8 C433.03 20.03 435.2 17.87 436.4 15.4 C437.6 12.93 438.57 9.23 439 8Z" fill="#ffb200"/>
<path d="M449.3 19 C450.13 19.7 450.55 20.97 451 23.8 C451.45 26.63 451.58 29.97 452 36 C452.42 42.03 453.17 54.33 453.5 60 C453.83 65.67 454.08 65.25 454 70 C453.92 74.75 453.33 82.97 453 88.5 C452.67 94.03 452.47 99.52 452 103.2 C451.53 106.88 450.78 109.1 450.2 110.6 C449.62 112.1 449.37 112.13 448.5 112.2 C447.63 112.27 446.25 111.58 445 111 C443.75 110.42 442.25 109.87 441 108.7 C439.75 107.53 438.42 105.53 437.5 104 C436.58 102.47 436.2 101.67 435.5 99.5 C434.8 97.33 433.8 94.25 433.3 91 C432.8 87.75 432.75 84.17 432.5 80 C432.25 75.83 431.9 69.33 431.8 66 C431.7 62.67 431.75 62.6 431.9 60 C432.05 57.4 432.27 54.15 432.7 50.4 C433.13 46.65 433.92 40.57 434.5 37.5 C435.08 34.43 435.58 33.53 436.2 32 C436.82 30.47 437.48 29.55 438.2 28.3 C438.92 27.05 439.73 25.58 440.5 24.5 C441.27 23.42 441.88 22.62 442.8 21.8 C443.72 20.98 444.92 20.07 446 19.6 C447.08 19.13 448.47 18.3 449.3 19Z" fill="#ff0000"/>
</g>
<path d="M421.9 14.2 L440 14.6 L460 15 L508.9 15.2 L508.9 116.1 L460 116.3 L421.9 116.6Z" fill="none" stroke="#999" stroke-width="0.4"/>
<line x1="421.9" y1="65.4" x2="508.9" y2="65.4" stroke="#000" stroke-opacity="0.5" stroke-width="0.85"/>
<text x="440" y="65" class="mk">MX</text>
<text x="509.4" y="65" class="mk">MN</text>
<rect x="538.8" y="22.6" width="3.5" height="10.91" fill="#0000ff"/>
<rect x="538.8" y="33.21" width="3.5" height="10.91" fill="#00b2ff"/>
<rect x="538.8" y="43.82" width="3.5" height="10.91" fill="#00ffff"/>
<rect x="538.8" y="54.43" width="3.5" height="10.91" fill="#00ffb2"/>
<rect x="538.8" y="65.04" width="3.5" height="10.91" fill="#00ff00"/>
<rect x="538.8" y="75.65" width="3.5" height="10.91" fill="#8aff00"/>
<rect x="538.8" y="86.26" width="3.5" height="10.91" fill="#ffff00"/>
<rect x="538.8" y="96.87" width="3.5" height="10.91" fill="#ffb200"/>
<rect x="538.8" y="107.48" width="3.5" height="10.91" fill="#ff0000"/>
<text transform="scale(1.12,1)" x="459.46 463.04 466.61 470.18 473.75 477.32" y="20.62" class="lab" font-size="6.2" fill="#5a5a5a">-.0001</text>
<text transform="scale(1.12,1)" x="463.04 466.61 470.18 473.75 477.32" y="31.39" class="lab" font-size="6.2" fill="#5a5a5a">.0002</text>
<text transform="scale(1.12,1)" x="463.04 466.61 470.18 473.75 477.32" y="42.15" class="lab" font-size="6.2" fill="#5a5a5a">.0005</text>
<text transform="scale(1.12,1)" x="463.04 466.61 470.18 473.75 477.32" y="52.92" class="lab" font-size="6.2" fill="#5a5a5a">.0009</text>
<text transform="scale(1.12,1)" x="463.04 466.61 470.18 473.75 477.32" y="63.69" class="lab" font-size="6.2" fill="#5a5a5a">.0012</text>
<text transform="scale(1.12,1)" x="463.04 466.61 470.18 473.75 477.32" y="74.45" class="lab" font-size="6.2" fill="#5a5a5a">.0015</text>
<text transform="scale(1.12,1)" x="463.04 466.61 470.18 473.75 477.32" y="85.22" class="lab" font-size="6.2" fill="#5a5a5a">.0018</text>
<text transform="scale(1.12,1)" x="463.04 466.61 470.18 473.75 477.32" y="95.99" class="lab" font-size="6.2" fill="#5a5a5a">.0022</text>
<text transform="scale(1.12,1)" x="463.04 466.61 470.18 473.75 477.32" y="106.75" class="lab" font-size="6.2" fill="#5a5a5a">.0025</text>
<text transform="scale(1.12,1)" x="463.04 466.61 470.18 473.75 477.32" y="117.52" class="lab" font-size="6.2" fill="#5a5a5a">.0028</text>
<text y="129.5" class="cap" style="font-size:11.7px"><tspan x="447.6" class="it">T</tspan><tspan x="459" textLength="8" lengthAdjust="spacingAndGlyphs">=</tspan><tspan x="470.8" textLength="16.65" lengthAdjust="spacingAndGlyphs">180</tspan><tspan x="488.05" textLength="12" lengthAdjust="spacingAndGlyphs">°C</tspan></text>
<clipPath id="clip4"><path d="M6.9 150.5 L40 151.2 L101.9 151.9 L101.9 261.4 L50 261.5 L6.9 262.1Z"/></clipPath>
<g clip-path="url(#clip4)">
<path d="M6.9 150.5 L40 151.2 L101.9 151.9 L101.9 261.4 L50 261.5 L6.9 262.1Z" fill="#ffff00"/>
<path d="M69.19 144 C68.49 145.47 66.27 150.13 65 152.8 C63.73 155.47 62.62 157.13 61.58 160 C60.53 162.87 59.64 167.85 58.72 170 C57.81 172.15 57.02 171.23 56.1 172.9 C55.18 174.57 54.03 177.98 53.2 180 C52.37 182.02 51.62 182.33 51.12 185 C50.63 187.67 50.42 192.45 50.25 196 C50.08 199.55 50.04 202.97 50.12 206.3 C50.21 209.63 50.38 212.38 50.75 216 C51.12 219.62 51.65 224.2 52.38 228 C53.1 231.8 54.09 236.13 55.08 238.8 C56.06 241.47 57.19 241.97 58.27 244 C59.36 246.03 60.45 248.25 61.58 251 C62.7 253.75 63.98 257.67 65 260.5 C66.02 263.33 67.25 266.75 67.7 268 L111.9 272.2 L111.9 141.2Z" fill="#8aff00"/>
<path d="M81.56 144 C80.86 145.47 78.66 150.13 77.4 152.8 C76.14 155.47 75.31 157.27 74 160 C72.69 162.73 71.06 166.12 69.55 169.2 C68.04 172.28 66.26 175.7 64.92 178.5 C63.59 181.3 62.49 183.08 61.55 186 C60.61 188.92 59.82 192.62 59.27 196 C58.73 199.38 58.34 202.97 58.3 206.3 C58.26 209.63 58.57 212.88 59.02 216 C59.48 219.12 60.11 221.97 61.05 225 C61.99 228.03 63.3 231.12 64.67 234.2 C66.05 237.28 67.83 240.7 69.33 243.5 C70.83 246.3 72.25 248.17 73.68 251 C75.1 253.83 76.64 257.67 77.9 260.5 C79.16 263.33 80.68 266.75 81.24 268 L111.9 272.2 L111.9 141.2Z" fill="#00ff00"/>
<path d="M94.45 144 C93.92 145.47 92.25 150.13 91.3 152.8 C90.35 155.47 89.75 157.88 88.72 160 C87.7 162.12 86.5 163.97 85.17 165.5 C83.85 167.03 82.26 167.5 80.8 169.2 C79.34 170.9 77.78 172.9 76.42 175.7 C75.07 178.5 73.77 182.62 72.7 186 C71.62 189.38 70.61 192.62 69.97 196 C69.34 199.38 68.92 202.97 68.88 206.3 C68.83 209.63 69.18 212.88 69.7 216 C70.22 219.12 70.95 222.27 72 225 C73.05 227.73 74.41 229.63 76 232.4 C77.59 235.17 79.75 238.5 81.55 241.6 C83.35 244.7 85.26 247.85 86.8 251 C88.34 254.15 89.61 257.67 90.8 260.5 C91.99 263.33 93.43 266.75 93.96 268 L111.9 272.2 L111.9 141.2Z" fill="#00ffb2"/>
<path d="M100.05 144 C99.89 145.47 99.39 150.13 99.1 152.8 C98.81 155.47 98.99 157.88 98.32 160 C97.66 162.12 96.51 163.97 95.12 165.5 C93.74 167.03 91.68 167.35 90.03 169.2 C88.37 171.05 86.5 173.8 85.2 176.6 C83.9 179.4 82.98 182.77 82.2 186 C81.42 189.23 80.94 192.62 80.5 196 C80.06 199.38 79.6 202.97 79.58 206.3 C79.55 209.63 79.78 212.88 80.38 216 C80.97 219.12 81.87 222.58 83.17 225 C84.48 227.42 86.36 228.03 88.22 230.5 C90.09 232.97 92.74 236.38 94.38 239.8 C96.01 243.22 97.34 247.55 98.03 251 C98.71 254.45 98.36 257.67 98.5 260.5 C98.64 263.33 98.81 266.75 98.88 268 L111.9 272.2 L111.9 141.2Z" fill="#00ffff"/>
<path d="M104 169 C103.65 169.5 102.53 170.73 101.9 172 C101.27 173.27 101.1 174.6 100.2 176.6 C99.3 178.6 97.37 180.77 96.5 184 C95.63 187.23 95.57 192.28 95 196 C94.43 199.72 93.27 202.97 93.1 206.3 C92.93 209.63 93.58 212.88 94 216 C94.42 219.12 94.72 222.58 95.6 225 C96.48 227.42 98.23 228.03 99.3 230.5 C100.37 232.97 101.22 237.72 102 239.8 C102.78 241.88 103.67 242.47 104 243 L111.9 243 L111.9 169Z" fill="#00b2ff"/>
<path d="M104 187 C103.65 187.5 102.4 188.5 101.9 190 C101.4 191.5 101.18 193.28 101 196 C100.82 198.72 100.8 202.97 100.8 206.3 C100.8 209.63 100.82 213.38 101 216 C101.18 218.62 101.4 220.5 101.9 222 C102.4 223.5 103.65 224.5 104 225 L111.9 225 L111.9 187Z" fill="#0000ff"/>
<path d="M15 144 C14.85 145.33 14.77 149.33 14.1 152 C13.43 154.67 12 157 11 160 C10 163 8.67 166.17 8.1 170 C7.53 173.83 7.75 176.95 7.6 183 C7.45 189.05 7.2 198.47 7.2 206.3 C7.2 214.13 7.38 224.05 7.6 230 C7.82 235.95 7.93 238.33 8.5 242 C9.07 245.67 10.15 248.92 11 252 C11.85 255.08 13.02 257.83 13.6 260.5 C14.18 263.17 14.35 266.75 14.5 268 L-3.1 272.2 L-3.1 141.2Z" fill="#8aff00"/>
<path d="M12.2 144 C12.13 145.33 12.25 149.67 11.8 152 C11.35 154.33 10.27 155.83 9.5 158 C8.73 160.17 7.95 163.5 7.2 165 C6.45 166.5 5.37 166.67 5 167 L-5 167 L-5 144Z" fill="#00ff00"/>
<path d="M5 245 C5.37 245.83 6.53 248.17 7.2 250 C7.87 251.83 8.32 254.25 9 256 C9.68 257.75 10.8 258.5 11.3 260.5 C11.8 262.5 11.88 266.75 12 268 L-5 268Z" fill="#00ff00"/>
<path d="M8.6 144 C8.52 145.33 8.37 150.17 8.1 152 C7.83 153.83 7.52 154.33 7 155 C6.48 155.67 5.33 155.83 5 156 L-5 156 L-5 144Z" fill="#00ffff"/>
<path d="M5 257 C5.33 257.25 6.48 257.92 7 258.5 C7.52 259.08 7.83 258.92 8.1 260.5 C8.37 262.08 8.52 266.75 8.6 268 L-5 268Z" fill="#00ffff"/>
<path d="M58.52 144 C58.17 144.67 57.11 146.67 56.44 148 C55.77 149.33 55.12 150.67 54.5 152 C53.87 153.33 53.27 154.67 52.69 156 C52.11 157.33 51.55 158.67 51.02 160 C50.49 161.33 49.98 162.67 49.5 164 C49.01 165.33 48.56 166.67 48.12 168 C47.69 169.33 47.28 170.67 46.89 172 C46.51 173.33 46.15 174.67 45.81 176 C45.47 177.33 45.16 178.67 44.88 180 C44.59 181.33 44.33 182.67 44.1 184 C43.86 185.33 43.65 186.67 43.46 188 C43.28 189.33 43.12 190.67 42.98 192 C42.84 193.33 42.73 194.67 42.64 196 C42.56 197.33 42.49 198.67 42.45 200 C42.41 201.33 42.4 202.67 42.4 204 C42.41 205.33 42.44 206.67 42.5 208 C42.55 209.33 42.63 210.67 42.73 212 C42.82 213.33 42.95 214.67 43.09 216 C43.23 217.33 43.39 218.67 43.58 220 C43.76 221.33 43.97 222.67 44.19 224 C44.41 225.33 44.66 226.67 44.92 228 C45.18 229.33 45.46 230.67 45.76 232 C46.06 233.33 46.38 234.67 46.71 236 C47.04 237.33 47.39 238.67 47.76 240 C48.12 241.33 48.5 242.67 48.9 244 C49.29 245.33 49.7 246.67 50.11 248 C50.53 249.33 50.97 250.67 51.41 252 C51.85 253.33 52.31 254.67 52.77 256 C53.23 257.33 53.7 258.67 54.18 260 C54.66 261.33 55.15 262.67 55.64 264 C56.13 265.33 56.89 267.33 57.14 268 L23.51 268 C23.04 267.33 21.55 265.33 20.7 264 C19.85 262.67 19.1 261.33 18.42 260 C17.73 258.67 17.14 257.33 16.59 256 C16.05 254.67 15.58 253.33 15.16 252 C14.74 250.67 14.38 249.33 14.06 248 C13.74 246.67 13.47 245.33 13.23 244 C13 242.67 12.8 241.33 12.63 240 C12.46 238.67 12.32 237.33 12.2 236 C12.09 234.67 12 233.33 11.92 232 C11.84 230.67 11.78 229.33 11.73 228 C11.68 226.67 11.65 225.33 11.62 224 C11.59 222.67 11.57 221.33 11.55 220 C11.53 218.67 11.52 217.33 11.51 216 C11.5 214.67 11.49 213.33 11.49 212 C11.48 210.67 11.47 209.33 11.47 208 C11.46 206.67 11.45 205.33 11.45 204 C11.44 202.67 11.44 201.33 11.43 200 C11.43 198.67 11.43 197.33 11.43 196 C11.43 194.67 11.43 193.33 11.44 192 C11.45 190.67 11.47 189.33 11.49 188 C11.52 186.67 11.56 185.33 11.61 184 C11.66 182.67 11.72 181.33 11.81 180 C11.9 178.67 12 177.33 12.13 176 C12.27 174.67 12.42 173.33 12.61 172 C12.81 170.67 13.03 169.33 13.3 168 C13.57 166.67 13.87 165.33 14.23 164 C14.6 162.67 15 161.33 15.47 160 C15.95 158.67 16.47 157.33 17.07 156 C17.68 154.67 18.35 153.33 19.1 152 C19.86 150.67 20.69 149.33 21.63 148 C22.57 146.67 24.21 144.67 24.73 144Z" fill="#ffb200"/>
<path d="M49.64 144 C49.36 144.67 48.5 146.67 47.95 148 C47.41 149.33 46.89 150.67 46.38 152 C45.87 153.33 45.39 154.67 44.92 156 C44.45 157.33 44 158.67 43.57 160 C43.14 161.33 42.72 162.67 42.33 164 C41.94 165.33 41.56 166.67 41.21 168 C40.85 169.33 40.52 170.67 40.2 172 C39.88 173.33 39.59 174.67 39.31 176 C39.03 177.33 38.77 178.67 38.53 180 C38.3 181.33 38.08 182.67 37.87 184 C37.67 185.33 37.49 186.67 37.33 188 C37.17 189.33 37.03 190.67 36.91 192 C36.78 193.33 36.68 194.67 36.59 196 C36.51 197.33 36.44 198.67 36.4 200 C36.35 201.33 36.33 202.67 36.32 204 C36.31 205.33 36.32 206.67 36.35 208 C36.38 209.33 36.43 210.67 36.49 212 C36.56 213.33 36.64 214.67 36.75 216 C36.85 217.33 36.97 218.67 37.11 220 C37.25 221.33 37.41 222.67 37.58 224 C37.75 225.33 37.95 226.67 38.16 228 C38.36 229.33 38.59 230.67 38.83 232 C39.08 233.33 39.34 234.67 39.61 236 C39.89 237.33 40.18 238.67 40.49 240 C40.8 241.33 41.12 242.67 41.46 244 C41.8 245.33 42.16 246.67 42.53 248 C42.9 249.33 43.28 250.67 43.68 252 C44.08 253.33 44.49 254.67 44.92 256 C45.35 257.33 45.79 258.67 46.24 260 C46.69 261.33 47.16 262.67 47.64 264 C48.12 265.33 48.87 267.33 49.11 268 L33.72 268 C32.97 267.33 30.59 265.33 29.26 264 C27.92 262.67 26.76 261.33 25.71 260 C24.65 258.67 23.75 257.33 22.94 256 C22.13 254.67 21.44 253.33 20.84 252 C20.23 250.67 19.73 249.33 19.29 248 C18.85 246.67 18.5 245.33 18.19 244 C17.89 242.67 17.66 241.33 17.47 240 C17.27 238.67 17.13 237.33 17.02 236 C16.91 234.67 16.84 233.33 16.79 232 C16.73 230.67 16.71 229.33 16.7 228 C16.69 226.67 16.7 225.33 16.71 224 C16.72 222.67 16.74 221.33 16.76 220 C16.78 218.67 16.81 217.33 16.83 216 C16.85 214.67 16.87 213.33 16.89 212 C16.9 210.67 16.91 209.33 16.91 208 C16.92 206.67 16.91 205.33 16.9 204 C16.89 202.67 16.87 201.33 16.85 200 C16.83 198.67 16.81 197.33 16.78 196 C16.76 194.67 16.72 193.33 16.7 192 C16.68 190.67 16.65 189.33 16.64 188 C16.63 186.67 16.63 185.33 16.65 184 C16.67 182.67 16.69 181.33 16.76 180 C16.82 178.67 16.9 177.33 17.04 176 C17.17 174.67 17.32 173.33 17.54 172 C17.76 170.67 18.02 169.33 18.35 168 C18.69 166.67 19.08 165.33 19.56 164 C20.04 162.67 20.58 161.33 21.24 160 C21.9 158.67 22.64 157.33 23.51 156 C24.39 154.67 25.36 153.33 26.48 152 C27.61 150.67 28.85 149.33 30.27 148 C31.69 146.67 34.21 144.67 35 144Z" fill="#ff0000"/>
</g>
<path d="M6.9 150.5 L40 151.2 L101.9 151.9" fill="none" stroke="#555" stroke-width="0.5"/>
<path d="M101.9 261.4 L50 261.5 L6.9 262.1" fill="none" stroke="#555" stroke-width="0.5"/>
<line x1="6.9" y1="206.2" x2="101.9" y2="206.2" stroke="#000" stroke-opacity="0.5" stroke-width="0.85"/>
<text x="35.3" y="151.4" class="mk">MX</text>
<text x="102.6" y="205.2" class="mk">MN</text>
<rect x="131.6" y="159" width="3.7" height="11.72" fill="#0000ff"/>
<rect x="131.6" y="170.42" width="3.7" height="11.72" fill="#00b2ff"/>
<rect x="131.6" y="181.84" width="3.7" height="11.72" fill="#00ffff"/>
<rect x="131.6" y="193.26" width="3.7" height="11.72" fill="#00ffb2"/>
<rect x="131.6" y="204.68" width="3.7" height="11.72" fill="#00ff00"/>
<rect x="131.6" y="216.1" width="3.7" height="11.72" fill="#8aff00"/>
<rect x="131.6" y="227.52" width="3.7" height="11.72" fill="#ffff00"/>
<rect x="131.6" y="238.94" width="3.7" height="11.72" fill="#ffb200"/>
<rect x="131.6" y="250.36" width="3.7" height="11.72" fill="#ff0000"/>
<text transform="scale(1.12,1)" x="96.32 99.84 103.37 106.9 110.42 113.95" y="156.37" class="lab" font-size="6.35" fill="#585858">-.0029</text>
<text transform="scale(1.12,1)" x="96.32 99.84 103.37 106.9 110.42 113.95" y="167.93" class="lab" font-size="6.35" fill="#585858">-.0015</text>
<text transform="scale(1.12,1)" x="110.42 113.95" y="179.48" class="lab" font-size="6.35" fill="#585858">-0</text>
<text transform="scale(1.12,1)" x="99.84 103.37 106.9 110.42 113.95" y="191.04" class="lab" font-size="6.35" fill="#585858">.0014</text>
<text transform="scale(1.12,1)" x="99.84 103.37 106.9 110.42 113.95" y="202.6" class="lab" font-size="6.35" fill="#585858">.0029</text>
<text transform="scale(1.12,1)" x="99.84 103.37 106.9 110.42 113.95" y="214.15" class="lab" font-size="6.35" fill="#585858">.0044</text>
<text transform="scale(1.12,1)" x="99.84 103.37 106.9 110.42 113.95" y="225.71" class="lab" font-size="6.35" fill="#585858">.0058</text>
<text transform="scale(1.12,1)" x="99.84 103.37 106.9 110.42 113.95" y="237.26" class="lab" font-size="6.35" fill="#585858">.0073</text>
<text transform="scale(1.12,1)" x="99.84 103.37 106.9 110.42 113.95" y="248.82" class="lab" font-size="6.35" fill="#585858">.0087</text>
<text transform="scale(1.12,1)" x="99.84 103.37 106.9 110.42 113.95" y="260.37" class="lab" font-size="6.35" fill="#585858">.0102</text>
<text y="275.2" class="cap" style="font-size:11.7px"><tspan x="24.3" class="it">T</tspan><tspan x="35.7" textLength="8" lengthAdjust="spacingAndGlyphs">=</tspan><tspan x="47.5" textLength="16.65" lengthAdjust="spacingAndGlyphs">200</tspan><tspan x="64.75" textLength="12" lengthAdjust="spacingAndGlyphs">°C</tspan></text>
<clipPath id="clip5"><path d="M144.3 149.8 L180 150.5 L238.7 151.3 L238.7 259.4 L190 259.6 L144.3 260.3Z"/></clipPath>
<g clip-path="url(#clip5)">
<path d="M144.3 149.8 L180 150.5 L238.7 151.3 L238.7 259.4 L190 259.6 L144.3 260.3Z" fill="#ffff00"/>
<path d="M206.06 143.43 C205.35 144.88 203.09 149.5 201.78 152.13 C200.48 154.77 199.35 156.42 198.24 159.25 C197.13 162.08 196.11 167.01 195.14 169.14 C194.18 171.26 193.42 170.36 192.45 172 C191.48 173.65 190.23 177.03 189.34 179.02 C188.45 181.02 187.68 181.33 187.12 183.97 C186.56 186.6 186.21 191.33 185.98 194.84 C185.76 198.35 185.68 201.73 185.76 205.03 C185.84 208.32 186.03 211.04 186.47 214.62 C186.9 218.19 187.56 222.73 188.38 226.48 C189.2 230.24 190.34 234.52 191.4 237.16 C192.46 239.8 193.6 240.29 194.74 242.3 C195.87 244.31 197.03 246.5 198.2 249.22 C199.38 251.94 200.73 255.81 201.8 258.61 C202.86 261.42 204.12 264.79 204.58 266.03 L248.7 270.3 L248.7 140.55Z" fill="#8aff00"/>
<path d="M218.35 143.43 C217.65 144.88 215.4 149.5 214.11 152.13 C212.81 154.77 211.95 156.55 210.59 159.25 C209.22 161.95 207.52 165.3 205.92 168.35 C204.33 171.4 202.45 174.77 201.04 177.54 C199.63 180.31 198.47 182.07 197.45 184.96 C196.44 187.84 195.54 191.5 194.95 194.84 C194.36 198.19 193.93 201.73 193.89 205.03 C193.84 208.32 194.19 211.54 194.69 214.62 C195.2 217.7 195.89 220.52 196.91 223.52 C197.93 226.52 199.33 229.56 200.79 232.61 C202.26 235.66 204.13 239.04 205.7 241.81 C207.28 244.58 208.74 246.42 210.23 249.22 C211.71 252.02 213.31 255.81 214.62 258.61 C215.92 261.42 217.46 264.79 218.03 266.03 L248.7 270.3 L248.7 140.55Z" fill="#00ff00"/>
<path d="M231.14 143.43 C230.59 144.88 228.87 149.5 227.87 152.13 C226.87 154.77 226.21 157.16 225.14 159.25 C224.07 161.34 222.81 163.17 221.45 164.69 C220.09 166.2 218.49 166.67 216.98 168.35 C215.47 170.03 213.84 172 212.39 174.77 C210.94 177.54 209.48 181.61 208.3 184.96 C207.12 188.3 206 191.5 205.3 194.84 C204.6 198.19 204.14 201.73 204.1 205.03 C204.05 208.32 204.44 211.54 205.02 214.62 C205.59 217.7 206.42 220.81 207.55 223.52 C208.68 226.22 210.11 228.1 211.8 230.83 C213.48 233.57 215.76 236.86 217.66 239.93 C219.56 242.99 221.56 246.11 223.18 249.22 C224.8 252.34 226.14 255.81 227.39 258.61 C228.63 261.42 230.1 264.79 230.64 266.03 L248.7 270.3 L248.7 140.55Z" fill="#00ffb2"/>
<path d="M236.68 143.43 C236.5 144.88 235.93 149.5 235.59 152.13 C235.24 154.77 235.35 157.16 234.63 159.25 C233.91 161.34 232.7 163.17 231.27 164.69 C229.84 166.2 227.78 166.52 226.06 168.35 C224.34 170.18 222.37 172.89 220.96 175.66 C219.55 178.43 218.49 181.76 217.59 184.96 C216.69 188.15 216.09 191.5 215.58 194.84 C215.07 198.19 214.55 201.73 214.53 205.03 C214.51 208.32 214.78 211.54 215.44 214.62 C216.1 217.7 217.11 221.13 218.5 223.52 C219.88 225.91 221.78 226.52 223.73 228.95 C225.69 231.39 228.48 234.77 230.24 238.15 C232 241.53 233.49 245.81 234.28 249.22 C235.08 252.63 234.8 255.81 235.01 258.61 C235.21 261.42 235.43 264.79 235.51 266.03 L248.7 270.3 L248.7 140.55Z" fill="#00ffff"/>
<path d="M240.16 168.15 C239.8 168.64 238.66 169.86 237.99 171.11 C237.32 172.37 237.11 173.69 236.15 175.66 C235.2 177.64 233.19 179.78 232.24 182.98 C231.29 186.18 231.08 191.17 230.45 194.84 C229.82 198.52 228.63 201.73 228.47 205.03 C228.3 208.32 228.98 211.54 229.45 214.62 C229.91 217.7 230.3 221.13 231.24 223.52 C232.18 225.91 233.95 226.52 235.08 228.95 C236.22 231.39 237.22 236.09 238.06 238.15 C238.91 240.21 239.8 240.79 240.15 241.31 L248.7 241.31 L248.7 168.15Z" fill="#00b2ff"/>
<path d="M240.79 185.95 C240.44 186.44 239.2 187.43 238.7 188.91 C238.2 190.39 237.99 192.16 237.81 194.84 C237.62 197.53 237.61 201.73 237.61 205.03 C237.61 208.32 237.62 212.03 237.81 214.62 C237.99 217.2 238.2 219.07 238.7 220.55 C239.2 222.03 240.44 223.02 240.79 223.52 L248.7 223.52 L248.7 185.95Z" fill="#0000ff"/>
<path d="M152.35 143.43 C152.2 144.75 152.12 148.7 151.45 151.34 C150.79 153.98 149.37 156.28 148.37 159.25 C147.38 162.22 146.06 165.35 145.49 169.14 C144.93 172.93 145.14 176.01 145 181.99 C144.85 187.97 144.6 197.28 144.6 205.03 C144.6 212.77 144.78 222.58 145 228.46 C145.21 234.34 145.33 236.7 145.89 240.32 C146.45 243.95 147.53 247.16 148.37 250.21 C149.22 253.26 150.38 255.98 150.96 258.61 C151.54 261.25 151.7 264.79 151.85 266.03 L134.3 270.3 L134.3 140.55Z" fill="#8aff00"/>
<path d="M149.57 143.43 C149.5 144.75 149.62 149.03 149.17 151.34 C148.72 153.65 147.65 155.13 146.88 157.27 C146.12 159.42 145.34 162.71 144.6 164.19 C143.85 165.68 142.78 165.84 142.41 166.17 L132.47 166.17 L132.47 143.43Z" fill="#00ff00"/>
<path d="M142.41 243.29 C142.78 244.11 143.94 246.42 144.6 248.23 C145.26 250.05 145.71 252.44 146.39 254.17 C147.07 255.9 148.18 256.64 148.67 258.61 C149.17 260.59 149.25 264.79 149.37 266.03 L132.47 266.03Z" fill="#00ff00"/>
<path d="M145.99 143.43 C145.91 144.75 145.76 149.53 145.49 151.34 C145.23 153.15 144.91 153.65 144.4 154.31 C143.89 154.97 142.74 155.13 142.41 155.3 L132.47 155.3 L132.47 143.43Z" fill="#00ffff"/>
<path d="M142.41 255.15 C142.74 255.4 143.89 256.06 144.4 256.64 C144.91 257.21 145.23 257.05 145.49 258.61 C145.76 260.18 145.91 264.79 145.99 266.03 L132.47 266.03Z" fill="#00ffff"/>
<path d="M195.46 143.43 C195.11 144.09 194.03 146.07 193.35 147.39 C192.67 148.7 192 150.02 191.36 151.34 C190.72 152.66 190.09 153.98 189.49 155.3 C188.89 156.61 188.31 157.93 187.75 159.25 C187.19 160.57 186.66 161.89 186.14 163.21 C185.63 164.52 185.13 165.84 184.66 167.16 C184.2 168.48 183.75 169.8 183.32 171.11 C182.9 172.43 182.5 173.75 182.12 175.07 C181.75 176.39 181.4 177.71 181.07 179.02 C180.75 180.34 180.44 181.66 180.17 182.98 C179.9 184.3 179.65 185.62 179.42 186.93 C179.2 188.25 179.01 189.57 178.84 190.89 C178.67 192.21 178.54 193.53 178.42 194.84 C178.31 196.16 178.23 197.48 178.17 198.8 C178.12 200.12 178.09 201.44 178.1 202.75 C178.1 204.07 178.13 205.39 178.18 206.71 C178.24 208.03 178.33 209.34 178.44 210.66 C178.55 211.98 178.69 213.3 178.85 214.62 C179.02 215.94 179.21 217.25 179.42 218.57 C179.63 219.89 179.87 221.21 180.13 222.53 C180.39 223.85 180.67 225.16 180.97 226.48 C181.27 227.8 181.59 229.12 181.93 230.44 C182.27 231.76 182.63 233.07 183 234.39 C183.37 235.71 183.76 237.03 184.17 238.35 C184.57 239.66 184.99 240.98 185.42 242.3 C185.85 243.62 186.29 244.94 186.74 246.26 C187.19 247.57 187.65 248.89 188.12 250.21 C188.59 251.53 189.07 252.85 189.56 254.17 C190.05 255.48 190.54 256.8 191.04 258.12 C191.54 259.44 192.04 260.76 192.55 262.08 C193.06 263.39 193.83 265.37 194.08 266.03 L160.8 266.03 C160.34 265.37 158.85 263.39 158.01 262.08 C157.17 260.76 156.42 259.44 155.74 258.12 C155.06 256.8 154.47 255.48 153.93 254.17 C153.39 252.85 152.93 251.53 152.51 250.21 C152.09 248.89 151.74 247.57 151.42 246.26 C151.1 244.94 150.83 243.62 150.59 242.3 C150.36 240.98 150.16 239.66 149.99 238.35 C149.82 237.03 149.69 235.71 149.57 234.39 C149.45 233.07 149.36 231.76 149.28 230.44 C149.21 229.12 149.15 227.8 149.1 226.48 C149.05 225.16 149.02 223.85 148.99 222.53 C148.96 221.21 148.94 219.89 148.92 218.57 C148.9 217.25 148.89 215.94 148.88 214.62 C148.87 213.3 148.86 211.98 148.86 210.66 C148.85 209.34 148.84 208.03 148.84 206.71 C148.83 205.39 148.83 204.07 148.82 202.75 C148.81 201.44 148.81 200.12 148.8 198.8 C148.8 197.48 148.8 196.16 148.8 194.84 C148.8 193.53 148.8 192.21 148.81 190.89 C148.82 189.57 148.84 188.25 148.87 186.93 C148.89 185.62 148.93 184.3 148.98 182.98 C149.03 181.66 149.09 180.34 149.18 179.02 C149.27 177.71 149.37 176.39 149.5 175.07 C149.63 173.75 149.79 172.43 149.98 171.11 C150.17 169.8 150.39 168.48 150.66 167.16 C150.93 165.84 151.23 164.52 151.59 163.21 C151.95 161.89 152.35 160.57 152.82 159.25 C153.29 157.93 153.81 156.61 154.41 155.3 C155.01 153.98 155.67 152.66 156.43 151.34 C157.18 150.02 158.01 148.7 158.94 147.39 C159.87 146.07 161.5 144.09 162.02 143.43Z" fill="#ffb200"/>
<path d="M186.59 143.43 C186.3 144.09 185.42 146.07 184.86 147.39 C184.29 148.7 183.75 150.02 183.22 151.34 C182.69 152.66 182.17 153.98 181.67 155.3 C181.17 156.61 180.68 157.93 180.22 159.25 C179.75 160.57 179.29 161.89 178.86 163.21 C178.42 164.52 178 165.84 177.6 167.16 C177.19 168.48 176.81 169.8 176.44 171.11 C176.07 172.43 175.72 173.75 175.39 175.07 C175.05 176.39 174.74 177.71 174.44 179.02 C174.15 180.34 173.88 181.66 173.62 182.98 C173.37 184.3 173.14 185.62 172.93 186.93 C172.72 188.25 172.53 189.57 172.37 190.89 C172.2 192.21 172.06 193.53 171.95 194.84 C171.83 196.16 171.74 197.48 171.67 198.8 C171.61 200.12 171.57 201.44 171.55 202.75 C171.53 204.07 171.54 205.39 171.58 206.71 C171.61 208.03 171.67 209.34 171.76 210.66 C171.84 211.98 171.95 213.3 172.08 214.62 C172.22 215.94 172.37 217.25 172.55 218.57 C172.73 219.89 172.93 221.21 173.15 222.53 C173.37 223.85 173.62 225.16 173.88 226.48 C174.14 227.8 174.42 229.12 174.72 230.44 C175.02 231.76 175.33 233.07 175.66 234.39 C175.99 235.71 176.34 237.03 176.7 238.35 C177.06 239.66 177.44 240.98 177.83 242.3 C178.22 243.62 178.62 244.94 179.03 246.26 C179.45 247.57 179.87 248.89 180.31 250.21 C180.75 251.53 181.2 252.85 181.66 254.17 C182.11 255.48 182.58 256.8 183.06 258.12 C183.54 259.44 184.03 260.76 184.53 262.08 C185.03 263.39 185.81 265.37 186.06 266.03 L170.95 266.03 C170.21 265.37 167.84 263.39 166.52 262.08 C165.19 260.76 164.03 259.44 162.99 258.12 C161.94 256.8 161.04 255.48 160.24 254.17 C159.43 252.85 158.75 251.53 158.15 250.21 C157.54 248.89 157.05 247.57 156.61 246.26 C156.17 244.94 155.82 243.62 155.52 242.3 C155.22 240.98 154.99 239.66 154.8 238.35 C154.61 237.03 154.47 235.71 154.36 234.39 C154.24 233.07 154.18 231.76 154.12 230.44 C154.07 229.12 154.05 227.8 154.04 226.48 C154.02 225.16 154.03 223.85 154.04 222.53 C154.05 221.21 154.08 219.89 154.1 218.57 C154.12 217.25 154.15 215.94 154.17 214.62 C154.19 213.3 154.21 211.98 154.22 210.66 C154.24 209.34 154.25 208.03 154.25 206.71 C154.25 205.39 154.25 204.07 154.24 202.75 C154.23 201.44 154.21 200.12 154.19 198.8 C154.17 197.48 154.14 196.16 154.12 194.84 C154.09 193.53 154.06 192.21 154.04 190.89 C154.02 189.57 153.99 188.25 153.98 186.93 C153.97 185.62 153.97 184.3 153.99 182.98 C154 181.66 154.03 180.34 154.1 179.02 C154.16 177.71 154.24 176.39 154.37 175.07 C154.5 173.75 154.66 172.43 154.88 171.11 C155.09 169.8 155.35 168.48 155.68 167.16 C156.02 165.84 156.4 164.52 156.88 163.21 C157.36 161.89 157.9 160.57 158.55 159.25 C159.21 157.93 159.94 156.61 160.81 155.3 C161.68 153.98 162.64 152.66 163.76 151.34 C164.88 150.02 166.11 148.7 167.52 147.39 C168.93 146.07 171.44 144.09 172.23 143.43Z" fill="#ff0000"/>
</g>
<path d="M144.3 149.8 L180 150.5 L238.7 151.3" fill="none" stroke="#555" stroke-width="0.5"/>
<path d="M238.7 259.4 L190 259.6 L144.3 260.3" fill="none" stroke="#555" stroke-width="0.5"/>
<line x1="144.3" y1="205.2" x2="238.7" y2="205.2" stroke="#000" stroke-opacity="0.5" stroke-width="0.85"/>
<text x="172" y="150.6" class="mk">MX</text>
<text x="238.6" y="204.2" class="mk">MN</text>
<rect x="267" y="157.1" width="3.7" height="11.68" fill="#0000ff"/>
<rect x="267" y="168.48" width="3.7" height="11.68" fill="#00b2ff"/>
<rect x="267" y="179.86" width="3.7" height="11.68" fill="#00ffff"/>
<rect x="267" y="191.24" width="3.7" height="11.68" fill="#00ffb2"/>
<rect x="267" y="202.62" width="3.7" height="11.68" fill="#00ff00"/>
<rect x="267" y="214" width="3.7" height="11.68" fill="#8aff00"/>
<rect x="267" y="225.38" width="3.7" height="11.68" fill="#ffff00"/>
<rect x="267" y="236.76" width="3.7" height="11.68" fill="#ffb200"/>
<rect x="267" y="248.14" width="3.7" height="11.68" fill="#ff0000"/>
<text transform="scale(1.12,1)" x="217.75 221.27 224.8 228.33 231.85 235.38" y="154.77" class="lab" font-size="6.35" fill="#585858">-.0055</text>
<text transform="scale(1.12,1)" x="217.75 221.27 224.8 228.33 231.85 235.38" y="166.27" class="lab" font-size="6.35" fill="#585858">-.0029</text>
<text transform="scale(1.12,1)" x="217.75 221.27 224.8 228.33 231.85 235.38" y="177.77" class="lab" font-size="6.35" fill="#585858">-.0003</text>
<text transform="scale(1.12,1)" x="221.27 224.8 228.33 231.85 235.38" y="189.27" class="lab" font-size="6.35" fill="#585858">.0023</text>
<text transform="scale(1.12,1)" x="221.27 224.8 228.33 231.85 235.38" y="200.77" class="lab" font-size="6.35" fill="#585858">.0049</text>
<text transform="scale(1.12,1)" x="221.27 224.8 228.33 231.85 235.38" y="212.27" class="lab" font-size="6.35" fill="#585858">.0076</text>
<text transform="scale(1.12,1)" x="221.27 224.8 228.33 231.85 235.38" y="223.77" class="lab" font-size="6.35" fill="#585858">.0102</text>
<text transform="scale(1.12,1)" x="221.27 224.8 228.33 231.85 235.38" y="235.27" class="lab" font-size="6.35" fill="#585858">.0128</text>
<text transform="scale(1.12,1)" x="221.27 224.8 228.33 231.85 235.38" y="246.77" class="lab" font-size="6.35" fill="#585858">.0154</text>
<text transform="scale(1.12,1)" x="224.8 228.33 231.85 235.38" y="258.27" class="lab" font-size="6.35" fill="#585858">.018</text>
<text y="275.2" class="cap" style="font-size:11.7px"><tspan x="164.3" class="it">T</tspan><tspan x="175.7" textLength="8" lengthAdjust="spacingAndGlyphs">=</tspan><tspan x="187.5" textLength="16.65" lengthAdjust="spacingAndGlyphs">220</tspan><tspan x="204.75" textLength="12" lengthAdjust="spacingAndGlyphs">°C</tspan></text>
<clipPath id="clip6"><path d="M283.1 151.9 L320 152.6 L376.9 153.3 L376.9 261.4 L330 261.8 L283.1 262.5Z"/></clipPath>
<g clip-path="url(#clip6)">
<path d="M283.1 151.9 L320 152.6 L376.9 153.3 L376.9 261.4 L330 261.8 L283.1 262.5Z" fill="#ffff00"/>
<path d="M344.58 145.48 C343.89 146.93 341.7 151.55 340.44 154.18 C339.19 156.82 338.1 158.47 337.06 161.3 C336.03 164.14 335.15 169.07 334.25 171.19 C333.35 173.32 332.57 172.41 331.66 174.06 C330.75 175.71 329.62 179.09 328.8 181.08 C327.98 183.08 327.24 183.39 326.75 186.03 C326.26 188.67 326.05 193.4 325.89 196.91 C325.72 200.42 325.68 203.8 325.76 207.09 C325.85 210.39 326.01 213.11 326.38 216.69 C326.75 220.26 327.27 224.8 327.98 228.56 C328.7 232.31 329.68 236.6 330.65 239.24 C331.62 241.87 332.74 242.37 333.81 244.38 C334.88 246.39 335.96 248.58 337.06 251.3 C338.17 254.02 339.44 257.9 340.44 260.7 C341.45 263.5 342.67 266.88 343.11 268.12 L386.87 272.38 L386.87 142.6Z" fill="#8aff00"/>
<path d="M356.79 145.48 C356.1 146.93 353.93 151.55 352.68 154.18 C351.44 156.82 350.62 158.6 349.33 161.3 C348.04 164.01 346.43 167.35 344.94 170.4 C343.44 173.45 341.69 176.83 340.37 179.6 C339.05 182.37 337.97 184.13 337.04 187.02 C336.11 189.9 335.33 193.56 334.79 196.91 C334.26 200.25 333.87 203.8 333.83 207.09 C333.79 210.39 334.1 213.6 334.55 216.69 C335 219.77 335.62 222.59 336.55 225.59 C337.48 228.59 338.76 231.64 340.12 234.69 C341.49 237.74 343.23 241.12 344.71 243.88 C346.19 246.65 347.6 248.5 349.01 251.3 C350.42 254.1 351.93 257.9 353.18 260.7 C354.42 263.5 355.92 266.88 356.47 268.12 L386.87 272.38 L386.87 142.6Z" fill="#00ff00"/>
<path d="M369.51 145.48 C368.99 146.93 367.34 151.55 366.4 154.18 C365.46 156.82 364.87 159.21 363.86 161.3 C362.85 163.4 361.66 165.23 360.36 166.74 C359.05 168.26 357.48 168.72 356.04 170.4 C354.6 172.08 353.05 174.06 351.72 176.83 C350.39 179.6 349.11 183.67 348.04 187.02 C346.98 190.36 345.98 193.56 345.36 196.91 C344.73 200.25 344.31 203.8 344.27 207.09 C344.22 210.39 344.57 213.6 345.08 216.69 C345.6 219.77 346.32 222.88 347.35 225.59 C348.39 228.29 349.73 230.17 351.3 232.91 C352.87 235.64 355 238.94 356.78 242.01 C358.56 245.07 360.44 248.19 361.96 251.3 C363.48 254.42 364.73 257.9 365.91 260.7 C367.09 263.5 368.51 266.88 369.03 268.12 L386.87 272.38 L386.87 142.6Z" fill="#00ffb2"/>
<path d="M375.04 145.48 C374.88 146.93 374.38 151.55 374.1 154.18 C373.82 156.82 373.99 159.21 373.34 161.3 C372.68 163.4 371.54 165.23 370.18 166.74 C368.81 168.26 366.78 168.57 365.14 170.4 C363.51 172.23 361.67 174.95 360.38 177.72 C359.09 180.49 358.19 183.82 357.42 187.02 C356.65 190.21 356.18 193.56 355.74 196.91 C355.31 200.25 354.85 203.8 354.83 207.09 C354.81 210.39 355.03 213.6 355.62 216.69 C356.21 219.77 357.09 223.2 358.38 225.59 C359.67 227.98 361.53 228.59 363.37 231.03 C365.21 233.47 367.83 236.85 369.44 240.23 C371.05 243.6 372.36 247.89 373.04 251.3 C373.72 254.71 373.37 257.9 373.51 260.7 C373.65 263.5 373.82 266.88 373.88 268.12 L386.87 272.38 L386.87 142.6Z" fill="#00ffff"/>
<path d="M378.94 170.2 C378.59 170.7 377.49 171.92 376.87 173.17 C376.24 174.42 376.08 175.74 375.19 177.72 C374.3 179.7 372.39 181.84 371.54 185.04 C370.68 188.24 370.61 193.23 370.05 196.91 C369.5 200.58 368.34 203.8 368.18 207.09 C368.01 210.39 368.66 213.6 369.07 216.69 C369.48 219.77 369.78 223.2 370.65 225.59 C371.52 227.98 373.25 228.59 374.3 231.03 C375.35 233.47 376.19 238.16 376.96 240.23 C377.74 242.29 378.61 242.86 378.94 243.39 L386.87 243.39 L386.87 170.2Z" fill="#00b2ff"/>
<path d="M378.94 188.01 C378.59 188.5 377.36 189.49 376.87 190.97 C376.37 192.46 376.16 194.22 375.98 196.91 C375.8 199.59 375.78 203.8 375.78 207.09 C375.78 210.39 375.8 214.1 375.98 216.69 C376.16 219.28 376.37 221.14 376.87 222.62 C377.36 224.1 378.59 225.09 378.94 225.59 L386.87 225.59 L386.87 188.01Z" fill="#0000ff"/>
<path d="M291.09 145.48 C290.95 146.8 290.86 150.75 290.21 153.39 C289.55 156.03 288.13 158.34 287.15 161.3 C286.16 164.27 284.84 167.4 284.28 171.19 C283.73 174.98 283.94 178.07 283.79 184.05 C283.64 190.03 283.4 199.35 283.4 207.09 C283.4 214.84 283.58 224.65 283.79 230.53 C284 236.42 284.12 238.77 284.68 242.4 C285.24 246.03 286.31 249.24 287.15 252.29 C287.99 255.34 289.14 258.06 289.71 260.7 C290.29 263.34 290.45 266.88 290.6 268.12 L273.1 272.38 L273.1 142.6Z" fill="#8aff00"/>
<path d="M288.33 145.48 C288.27 146.8 288.38 151.08 287.94 153.39 C287.49 155.7 286.42 157.18 285.67 159.33 C284.91 161.47 284.14 164.76 283.4 166.25 C282.66 167.73 281.59 167.9 281.22 168.23 L271.35 168.23 L271.35 145.48Z" fill="#00ff00"/>
<path d="M281.22 245.37 C281.59 246.19 282.74 248.5 283.4 250.31 C284.05 252.13 284.5 254.52 285.17 256.25 C285.85 257.98 286.95 258.72 287.44 260.7 C287.94 262.68 288.02 266.88 288.13 268.12 L271.35 268.12Z" fill="#00ff00"/>
<path d="M284.78 145.48 C284.7 146.8 284.55 151.58 284.28 153.39 C284.02 155.2 283.71 155.7 283.2 156.36 C282.69 157.02 281.55 157.18 281.22 157.35 L271.35 157.35 L271.35 145.48Z" fill="#00ffff"/>
<path d="M281.22 257.24 C281.55 257.48 282.69 258.14 283.2 258.72 C283.71 259.3 284.02 259.13 284.28 260.7 C284.55 262.26 284.7 266.88 284.78 268.12 L271.35 268.12Z" fill="#00ffff"/>
<path d="M334 145.48 C333.66 146.14 332.6 148.12 331.94 149.44 C331.27 150.75 330.62 152.07 330 153.39 C329.37 154.71 328.77 156.03 328.19 157.35 C327.61 158.67 327.05 159.98 326.52 161.3 C325.98 162.62 325.47 163.94 324.98 165.26 C324.49 166.58 324.03 167.9 323.59 169.22 C323.15 170.53 322.73 171.85 322.33 173.17 C321.94 174.49 321.57 175.81 321.23 177.13 C320.88 178.45 320.56 179.76 320.26 181.08 C319.97 182.4 319.7 183.72 319.45 185.04 C319.21 186.36 318.98 187.68 318.79 189 C318.59 190.31 318.42 191.63 318.28 192.95 C318.13 194.27 318.01 195.59 317.92 196.91 C317.82 198.23 317.75 199.54 317.71 200.86 C317.66 202.18 317.65 203.5 317.65 204.82 C317.66 206.14 317.69 207.46 317.74 208.78 C317.8 210.09 317.87 211.41 317.98 212.73 C318.08 214.05 318.2 215.37 318.35 216.69 C318.5 218.01 318.67 219.32 318.86 220.64 C319.05 221.96 319.27 223.28 319.5 224.6 C319.73 225.92 319.99 227.24 320.26 228.56 C320.53 229.87 320.82 231.19 321.13 232.51 C321.44 233.83 321.77 235.15 322.11 236.47 C322.45 237.79 322.81 239.1 323.18 240.42 C323.56 241.74 323.95 243.06 324.35 244.38 C324.75 245.7 325.16 247.02 325.59 248.34 C326.01 249.65 326.45 250.97 326.9 252.29 C327.34 253.61 327.8 254.93 328.27 256.25 C328.73 257.57 329.21 258.88 329.69 260.2 C330.17 261.52 330.65 262.84 331.15 264.16 C331.64 265.48 332.39 267.46 332.64 268.12 L299.49 268.12 C299.03 267.46 297.56 265.48 296.72 264.16 C295.88 262.84 295.14 261.52 294.47 260.2 C293.79 258.88 293.2 257.57 292.67 256.25 C292.13 254.93 291.67 253.61 291.26 252.29 C290.84 250.97 290.49 249.65 290.17 248.34 C289.85 247.02 289.59 245.7 289.35 244.38 C289.12 243.06 288.93 241.74 288.76 240.42 C288.59 239.1 288.45 237.79 288.34 236.47 C288.22 235.15 288.13 233.83 288.05 232.51 C287.97 231.19 287.92 229.87 287.87 228.56 C287.82 227.24 287.78 225.92 287.75 224.6 C287.72 223.28 287.71 221.96 287.69 220.64 C287.67 219.32 287.66 218.01 287.65 216.69 C287.64 215.37 287.63 214.05 287.63 212.73 C287.62 211.41 287.61 210.09 287.61 208.78 C287.6 207.46 287.6 206.14 287.59 204.82 C287.58 203.5 287.58 202.18 287.57 200.86 C287.57 199.54 287.57 198.23 287.57 196.91 C287.57 195.59 287.57 194.27 287.58 192.95 C287.59 191.63 287.61 190.31 287.63 189 C287.66 187.68 287.7 186.36 287.75 185.04 C287.8 183.72 287.86 182.4 287.95 181.08 C288.03 179.76 288.13 178.45 288.26 177.13 C288.4 175.81 288.55 174.49 288.74 173.17 C288.93 171.85 289.15 170.53 289.42 169.22 C289.68 167.9 289.98 166.58 290.34 165.26 C290.7 163.94 291.09 162.62 291.56 161.3 C292.03 159.98 292.54 158.67 293.14 157.35 C293.74 156.03 294.4 154.71 295.15 153.39 C295.9 152.07 296.71 150.75 297.64 149.44 C298.57 148.12 300.19 146.14 300.7 145.48Z" fill="#ffb200"/>
<path d="M325.09 145.48 C324.8 146.14 323.92 148.12 323.36 149.44 C322.8 150.75 322.25 152.07 321.72 153.39 C321.19 154.71 320.68 156.03 320.18 157.35 C319.68 158.67 319.19 159.98 318.72 161.3 C318.25 162.62 317.8 163.94 317.36 165.26 C316.92 166.58 316.5 167.9 316.09 169.22 C315.69 170.53 315.3 171.85 314.93 173.17 C314.56 174.49 314.2 175.81 313.86 177.13 C313.53 178.45 313.21 179.76 312.91 181.08 C312.62 182.4 312.34 183.72 312.08 185.04 C311.82 186.36 311.59 187.68 311.38 189 C311.16 190.31 310.97 191.63 310.8 192.95 C310.64 194.27 310.49 195.59 310.38 196.91 C310.26 198.23 310.16 199.54 310.1 200.86 C310.03 202.18 309.99 203.5 309.97 204.82 C309.95 206.14 309.96 207.46 310 208.78 C310.03 210.09 310.09 211.41 310.18 212.73 C310.26 214.05 310.38 215.37 310.51 216.69 C310.65 218.01 310.8 219.32 310.99 220.64 C311.17 221.96 311.37 223.28 311.6 224.6 C311.82 225.92 312.07 227.24 312.33 228.56 C312.6 229.87 312.88 231.19 313.18 232.51 C313.48 233.83 313.8 235.15 314.14 236.47 C314.47 237.79 314.82 239.1 315.19 240.42 C315.55 241.74 315.93 243.06 316.32 244.38 C316.71 245.7 317.12 247.02 317.53 248.34 C317.95 249.65 318.38 250.97 318.81 252.29 C319.25 253.61 319.7 254.93 320.16 256.25 C320.62 257.57 321.09 258.88 321.57 260.2 C322.05 261.52 322.54 262.84 323.04 264.16 C323.54 265.48 324.31 267.46 324.56 268.12 L309.57 268.12 C308.84 267.46 306.48 265.48 305.17 264.16 C303.85 262.84 302.7 261.52 301.66 260.2 C300.62 258.88 299.73 257.57 298.93 256.25 C298.13 254.93 297.45 253.61 296.85 252.29 C296.25 250.97 295.76 249.65 295.33 248.34 C294.89 247.02 294.55 245.7 294.25 244.38 C293.95 243.06 293.72 241.74 293.53 240.42 C293.34 239.1 293.2 237.79 293.09 236.47 C292.98 235.15 292.91 233.83 292.86 232.51 C292.8 231.19 292.79 229.87 292.77 228.56 C292.76 227.24 292.77 225.92 292.78 224.6 C292.79 223.28 292.81 221.96 292.83 220.64 C292.85 219.32 292.88 218.01 292.9 216.69 C292.92 215.37 292.94 214.05 292.96 212.73 C292.97 211.41 292.98 210.09 292.98 208.78 C292.99 207.46 292.98 206.14 292.97 204.82 C292.96 203.5 292.95 202.18 292.93 200.86 C292.91 199.54 292.88 198.23 292.85 196.91 C292.83 195.59 292.8 194.27 292.77 192.95 C292.75 191.63 292.73 190.31 292.72 189 C292.71 187.68 292.7 186.36 292.72 185.04 C292.74 183.72 292.77 182.4 292.83 181.08 C292.89 179.76 292.97 178.45 293.1 177.13 C293.23 175.81 293.39 174.49 293.6 173.17 C293.82 171.85 294.07 170.53 294.41 169.22 C294.74 167.9 295.12 166.58 295.59 165.26 C296.07 163.94 296.6 162.62 297.26 161.3 C297.91 159.98 298.63 158.67 299.5 157.35 C300.36 156.03 301.32 154.71 302.43 153.39 C303.54 152.07 304.76 150.75 306.16 149.44 C307.57 148.12 310.06 146.14 310.84 145.48Z" fill="#ff0000"/>
</g>
<path d="M283.1 151.9 L320 152.6 L376.9 153.3" fill="none" stroke="#555" stroke-width="0.5"/>
<path d="M376.9 261.4 L330 261.8 L283.1 262.5" fill="none" stroke="#555" stroke-width="0.5"/>
<line x1="283.1" y1="207.3" x2="376.9" y2="207.3" stroke="#000" stroke-opacity="0.5" stroke-width="0.85"/>
<text x="311" y="152.6" class="mk">MX</text>
<text x="377.4" y="207" class="mk">MN</text>
<rect x="407.1" y="157.8" width="3.5" height="11.72" fill="#0000ff"/>
<rect x="407.1" y="169.22" width="3.5" height="11.72" fill="#00b2ff"/>
<rect x="407.1" y="180.64" width="3.5" height="11.72" fill="#00ffff"/>
<rect x="407.1" y="192.06" width="3.5" height="11.72" fill="#00ffb2"/>
<rect x="407.1" y="203.48" width="3.5" height="11.72" fill="#00ff00"/>
<rect x="407.1" y="214.9" width="3.5" height="11.72" fill="#8aff00"/>
<rect x="407.1" y="226.32" width="3.5" height="11.72" fill="#ffff00"/>
<rect x="407.1" y="237.74" width="3.5" height="11.72" fill="#ffb200"/>
<rect x="407.1" y="249.16" width="3.5" height="11.72" fill="#ff0000"/>
<text transform="scale(1.12,1)" x="342.92 346.45 349.98 353.5 357.03 360.56" y="155.27" class="lab" font-size="6.35" fill="#585858">-.0076</text>
<text transform="scale(1.12,1)" x="342.92 346.45 349.98 353.5 357.03 360.56" y="166.82" class="lab" font-size="6.35" fill="#585858">-.0039</text>
<text transform="scale(1.12,1)" x="342.92 346.45 349.98 353.5 357.03 360.56" y="178.36" class="lab" font-size="6.35" fill="#585858">-.0001</text>
<text transform="scale(1.12,1)" x="346.45 349.98 353.5 357.03 360.56" y="189.91" class="lab" font-size="6.35" fill="#585858">.0036</text>
<text transform="scale(1.12,1)" x="346.45 349.98 353.5 357.03 360.56" y="201.45" class="lab" font-size="6.35" fill="#585858">.0074</text>
<text transform="scale(1.12,1)" x="346.45 349.98 353.5 357.03 360.56" y="213" class="lab" font-size="6.35" fill="#585858">.0111</text>
<text transform="scale(1.12,1)" x="346.45 349.98 353.5 357.03 360.56" y="224.54" class="lab" font-size="6.35" fill="#585858">.0149</text>
<text transform="scale(1.12,1)" x="346.45 349.98 353.5 357.03 360.56" y="236.08" class="lab" font-size="6.35" fill="#585858">.0186</text>
<text transform="scale(1.12,1)" x="346.45 349.98 353.5 357.03 360.56" y="247.63" class="lab" font-size="6.35" fill="#585858">.0224</text>
<text transform="scale(1.12,1)" x="346.45 349.98 353.5 357.03 360.56" y="259.17" class="lab" font-size="6.35" fill="#585858">.0261</text>
<text y="273.7" class="cap" style="font-size:11.3px"><tspan x="306.5" class="it">T</tspan><tspan x="317.9" textLength="8" lengthAdjust="spacingAndGlyphs">=</tspan><tspan x="329.7" textLength="16.65" lengthAdjust="spacingAndGlyphs">240</tspan><tspan x="346.95" textLength="12" lengthAdjust="spacingAndGlyphs">°C</tspan></text>
<clipPath id="clip7"><path d="M423.4 151.3 L460 151.9 L507.5 152.4 L507.5 258.3 L460 258.9 L423.4 259.7Z"/></clipPath>
<g clip-path="url(#clip7)">
<path d="M423.4 151.3 L460 151.9 L507.5 152.4 L507.5 258.3 L460 258.9 L423.4 259.7Z" fill="#ffff00"/>
<path d="M478.52 144.87 C477.91 146.29 475.94 150.82 474.82 153.4 C473.7 155.98 472.71 157.6 471.79 160.38 C470.86 163.16 470.07 167.98 469.27 170.07 C468.46 172.15 467.76 171.26 466.94 172.88 C466.13 174.49 465.11 177.8 464.38 179.76 C463.64 181.71 462.97 182.02 462.54 184.6 C462.1 187.19 461.91 191.82 461.76 195.26 C461.62 198.7 461.58 202.01 461.65 205.24 C461.73 208.47 461.88 211.14 462.21 214.64 C462.54 218.15 463.01 222.59 463.65 226.27 C464.28 229.95 465.16 234.15 466.03 236.73 C466.91 239.32 467.91 239.8 468.87 241.77 C469.83 243.74 470.8 245.89 471.79 248.56 C472.78 251.22 473.91 255.02 474.82 257.76 C475.72 260.51 476.81 263.82 477.21 265.03 L517.47 269.41 L517.47 141.85Z" fill="#8aff00"/>
<path d="M489.47 144.87 C488.86 146.29 486.91 150.82 485.79 153.4 C484.68 155.98 483.94 157.73 482.78 160.38 C481.63 163.03 480.18 166.3 478.85 169.29 C477.51 172.28 475.93 175.59 474.75 178.3 C473.57 181.02 472.6 182.74 471.77 185.57 C470.93 188.4 470.23 191.98 469.75 195.26 C469.27 198.54 468.93 202.01 468.89 205.24 C468.85 208.47 469.12 211.62 469.53 214.64 C469.94 217.66 470.49 220.42 471.32 223.36 C472.16 226.3 473.31 229.29 474.53 232.28 C475.75 235.26 477.32 238.58 478.65 241.29 C479.97 244 481.23 245.81 482.5 248.56 C483.76 251.3 485.12 255.02 486.23 257.76 C487.35 260.51 488.69 263.82 489.19 265.03 L517.47 269.41 L517.47 141.85Z" fill="#00ff00"/>
<path d="M500.88 144.87 C500.42 146.29 498.94 150.82 498.09 153.4 C497.25 155.98 496.72 158.33 495.82 160.38 C494.91 162.43 493.84 164.22 492.67 165.71 C491.5 167.19 490.09 167.64 488.8 169.29 C487.51 170.94 486.12 172.88 484.93 175.59 C483.73 178.3 482.58 182.29 481.63 185.57 C480.68 188.85 479.79 191.98 479.22 195.26 C478.66 198.54 478.29 202.01 478.25 205.24 C478.21 208.47 478.52 211.62 478.98 214.64 C479.44 217.66 480.08 220.71 481.01 223.36 C481.94 226.01 483.14 227.85 484.55 230.53 C485.96 233.21 487.87 236.44 489.47 239.45 C491.06 242.45 492.75 245.5 494.11 248.56 C495.48 251.61 496.6 255.02 497.65 257.76 C498.71 260.51 499.98 263.82 500.45 265.03 L517.47 269.41 L517.47 141.85Z" fill="#00ffb2"/>
<path d="M505.84 144.87 C505.7 146.29 505.25 150.82 505 153.4 C504.74 155.98 504.9 158.33 504.31 160.38 C503.72 162.43 502.7 164.22 501.48 165.71 C500.25 167.19 498.43 167.5 496.97 169.29 C495.5 171.08 493.85 173.75 492.7 176.46 C491.54 179.18 490.73 182.44 490.04 185.57 C489.35 188.7 488.92 191.98 488.54 195.26 C488.15 198.54 487.74 202.01 487.72 205.24 C487.7 208.47 487.89 211.62 488.43 214.64 C488.96 217.66 489.75 221.02 490.9 223.36 C492.06 225.7 493.72 226.3 495.37 228.69 C497.02 231.08 499.37 234.39 500.82 237.7 C502.26 241.01 503.44 245.21 504.05 248.56 C504.65 251.9 504.34 255.02 504.47 257.76 C504.59 260.51 504.74 263.82 504.8 265.03 L517.47 269.41 L517.47 141.85Z" fill="#00ffff"/>
<path d="M509.33 169.1 C509.02 169.58 508.04 170.78 507.47 172.01 C506.91 173.23 506.77 174.52 505.97 176.46 C505.17 178.4 503.46 180.5 502.7 183.63 C501.93 186.77 501.87 191.66 501.37 195.26 C500.87 198.86 499.83 202.01 499.69 205.24 C499.54 208.47 500.11 211.62 500.48 214.64 C500.85 217.66 501.12 221.02 501.9 223.36 C502.68 225.7 504.23 226.3 505.17 228.69 C506.12 231.08 506.87 235.68 507.56 237.7 C508.26 239.72 509.04 240.29 509.33 240.8 L517.47 240.8 L517.47 169.1Z" fill="#00b2ff"/>
<path d="M509.33 186.54 C509.02 187.02 507.92 187.99 507.47 189.45 C507.03 190.9 506.84 192.63 506.68 195.26 C506.52 197.89 506.5 202.01 506.5 205.24 C506.5 208.47 506.52 212.11 506.68 214.64 C506.84 217.18 507.03 219 507.47 220.46 C507.92 221.91 509.02 222.88 509.33 223.36 L517.47 223.36 L517.47 186.54Z" fill="#0000ff"/>
<path d="M430.57 144.87 C430.44 146.17 430.36 150.04 429.77 152.63 C429.18 155.21 427.91 157.47 427.03 160.38 C426.14 163.28 424.96 166.35 424.46 170.07 C423.96 173.78 424.15 176.8 424.02 182.66 C423.89 188.53 423.67 197.65 423.67 205.24 C423.67 212.83 423.83 222.44 424.02 228.21 C424.21 233.97 424.31 236.28 424.82 239.84 C425.32 243.39 426.28 246.54 427.03 249.53 C427.78 252.51 428.81 255.18 429.33 257.76 C429.85 260.35 429.99 263.82 430.13 265.03 L413.4 269.41 L413.4 141.85Z" fill="#8aff00"/>
<path d="M428.09 144.87 C428.03 146.17 428.13 150.36 427.74 152.63 C427.34 154.89 426.38 156.34 425.7 158.44 C425.02 160.54 424.33 163.77 423.67 165.22 C423 166.68 422.04 166.84 421.72 167.16 L412.87 167.16 L412.87 144.87Z" fill="#00ff00"/>
<path d="M421.72 242.74 C422.04 243.55 423.08 245.81 423.67 247.59 C424.26 249.36 424.65 251.71 425.26 253.4 C425.86 255.1 426.85 255.82 427.29 257.76 C427.74 259.7 427.81 263.82 427.91 265.03 L412.87 265.03Z" fill="#00ff00"/>
<path d="M424.9 144.87 C424.83 146.17 424.7 150.85 424.46 152.63 C424.23 154.4 423.95 154.89 423.49 155.53 C423.03 156.18 422.01 156.34 421.72 156.5 L412.87 156.5 L412.87 144.87Z" fill="#00ffff"/>
<path d="M421.72 254.37 C422.01 254.61 423.03 255.26 423.49 255.82 C423.95 256.39 424.23 256.23 424.46 257.76 C424.7 259.3 424.83 263.82 424.9 265.03 L412.87 265.03Z" fill="#00ffff"/>
<path d="M469.08 144.87 C468.78 145.52 467.84 147.46 467.24 148.75 C466.65 150.04 466.08 151.33 465.52 152.63 C464.97 153.92 464.43 155.21 463.92 156.5 C463.41 157.79 462.92 159.09 462.45 160.38 C461.98 161.67 461.53 162.96 461.1 164.25 C460.67 165.55 460.26 166.84 459.88 168.13 C459.5 169.42 459.13 170.71 458.79 172.01 C458.45 173.3 458.13 174.59 457.84 175.88 C457.54 177.17 457.26 178.47 457.01 179.76 C456.76 181.05 456.53 182.34 456.32 183.63 C456.11 184.93 455.92 186.22 455.76 187.51 C455.59 188.8 455.45 190.09 455.33 191.39 C455.21 192.68 455.11 193.97 455.03 195.26 C454.96 196.55 454.9 197.85 454.86 199.14 C454.83 200.43 454.82 201.72 454.82 203.01 C454.83 204.31 454.86 205.6 454.9 206.89 C454.95 208.18 455.02 209.47 455.11 210.77 C455.19 212.06 455.3 213.35 455.43 214.64 C455.55 215.93 455.7 217.23 455.86 218.52 C456.02 219.81 456.2 221.1 456.4 222.39 C456.6 223.69 456.82 224.98 457.05 226.27 C457.28 227.56 457.53 228.85 457.79 230.15 C458.06 231.44 458.34 232.73 458.63 234.02 C458.93 235.31 459.24 236.61 459.56 237.9 C459.88 239.19 460.22 240.48 460.57 241.77 C460.91 243.07 461.27 244.36 461.65 245.65 C462.02 246.94 462.4 248.23 462.79 249.53 C463.18 250.82 463.58 252.11 463.99 253.4 C464.4 254.69 464.82 255.99 465.24 257.28 C465.67 258.57 466.1 259.86 466.54 261.15 C466.97 262.45 467.64 264.38 467.86 265.03 L438.1 265.03 C437.68 264.38 436.36 262.45 435.61 261.15 C434.86 259.86 434.2 258.57 433.59 257.28 C432.99 255.99 432.46 254.69 431.98 253.4 C431.5 252.11 431.09 250.82 430.71 249.53 C430.34 248.23 430.02 246.94 429.74 245.65 C429.45 244.36 429.22 243.07 429.01 241.77 C428.79 240.48 428.62 239.19 428.47 237.9 C428.32 236.61 428.2 235.31 428.09 234.02 C427.99 232.73 427.91 231.44 427.84 230.15 C427.77 228.85 427.72 227.56 427.67 226.27 C427.63 224.98 427.6 223.69 427.57 222.39 C427.55 221.1 427.53 219.81 427.51 218.52 C427.5 217.23 427.49 215.93 427.48 214.64 C427.47 213.35 427.47 212.06 427.46 210.77 C427.45 209.47 427.45 208.18 427.44 206.89 C427.44 205.6 427.43 204.31 427.43 203.01 C427.42 201.72 427.42 200.43 427.41 199.14 C427.41 197.85 427.41 196.55 427.41 195.26 C427.41 193.97 427.41 192.68 427.42 191.39 C427.43 190.09 427.44 188.8 427.47 187.51 C427.49 186.22 427.52 184.93 427.57 183.63 C427.61 182.34 427.67 181.05 427.75 179.76 C427.82 178.47 427.91 177.17 428.03 175.88 C428.15 174.59 428.29 173.3 428.46 172.01 C428.63 170.71 428.82 169.42 429.06 168.13 C429.3 166.84 429.57 165.55 429.89 164.25 C430.21 162.96 430.57 161.67 430.99 160.38 C431.41 159.09 431.87 157.79 432.4 156.5 C432.94 155.21 433.53 153.92 434.2 152.63 C434.87 151.33 435.61 150.04 436.44 148.75 C437.27 147.46 438.72 145.52 439.18 144.87Z" fill="#ffb200"/>
<path d="M461.04 144.87 C460.78 145.52 459.99 147.46 459.49 148.75 C458.99 150.04 458.49 151.33 458.02 152.63 C457.54 153.92 457.08 155.21 456.63 156.5 C456.18 157.79 455.74 159.09 455.32 160.38 C454.9 161.67 454.49 162.96 454.09 164.25 C453.7 165.55 453.32 166.84 452.95 168.13 C452.58 169.42 452.23 170.71 451.9 172.01 C451.56 173.3 451.24 174.59 450.94 175.88 C450.63 177.17 450.34 178.47 450.08 179.76 C449.81 181.05 449.55 182.34 449.32 183.63 C449.09 184.93 448.87 186.22 448.68 187.51 C448.49 188.8 448.31 190.09 448.16 191.39 C448.01 192.68 447.88 193.97 447.77 195.26 C447.67 196.55 447.58 197.85 447.52 199.14 C447.46 200.43 447.42 201.72 447.4 203.01 C447.39 204.31 447.4 205.6 447.43 206.89 C447.46 208.18 447.52 209.47 447.59 210.77 C447.67 212.06 447.77 213.35 447.89 214.64 C448.02 215.93 448.16 217.23 448.33 218.52 C448.49 219.81 448.67 221.1 448.88 222.39 C449.08 223.69 449.31 224.98 449.54 226.27 C449.78 227.56 450.04 228.85 450.31 230.15 C450.59 231.44 450.88 232.73 451.18 234.02 C451.48 235.31 451.8 236.61 452.13 237.9 C452.46 239.19 452.8 240.48 453.15 241.77 C453.5 243.07 453.87 244.36 454.24 245.65 C454.62 246.94 455 248.23 455.4 249.53 C455.79 250.82 456.2 252.11 456.61 253.4 C457.03 254.69 457.45 255.99 457.88 257.28 C458.31 258.57 458.75 259.86 459.2 261.15 C459.65 262.45 460.34 264.38 460.57 265.03 L447.13 265.03 C446.48 264.38 444.37 262.45 443.19 261.15 C442 259.86 440.98 258.57 440.04 257.28 C439.11 255.99 438.31 254.69 437.59 253.4 C436.88 252.11 436.27 250.82 435.73 249.53 C435.19 248.23 434.75 246.94 434.36 245.65 C433.97 244.36 433.66 243.07 433.4 241.77 C433.13 240.48 432.92 239.19 432.75 237.9 C432.58 236.61 432.46 235.31 432.36 234.02 C432.26 232.73 432.2 231.44 432.15 230.15 C432.1 228.85 432.08 227.56 432.07 226.27 C432.06 224.98 432.07 223.69 432.08 222.39 C432.09 221.1 432.11 219.81 432.13 218.52 C432.15 217.23 432.17 215.93 432.19 214.64 C432.21 213.35 432.23 212.06 432.24 210.77 C432.25 209.47 432.26 208.18 432.26 206.89 C432.26 205.6 432.26 204.31 432.25 203.01 C432.24 201.72 432.23 200.43 432.21 199.14 C432.19 197.85 432.17 196.55 432.14 195.26 C432.12 193.97 432.09 192.68 432.07 191.39 C432.05 190.09 432.03 188.8 432.02 187.51 C432.01 186.22 432.01 184.93 432.03 183.63 C432.04 182.34 432.07 181.05 432.12 179.76 C432.18 178.47 432.25 177.17 432.37 175.88 C432.49 174.59 432.62 173.3 432.82 172.01 C433.01 170.71 433.24 169.42 433.54 168.13 C433.83 166.84 434.18 165.55 434.6 164.25 C435.03 162.96 435.51 161.67 436.09 160.38 C436.68 159.09 437.33 157.79 438.1 156.5 C438.88 155.21 439.73 153.92 440.73 152.63 C441.73 151.33 442.82 150.04 444.08 148.75 C445.34 147.46 447.57 145.52 448.27 144.87Z" fill="#ff0000"/>
</g>
<path d="M423.4 151.3 L460 151.9 L507.5 152.4" fill="none" stroke="#555" stroke-width="0.5"/>
<path d="M507.5 258.3 L460 258.9 L423.4 259.7" fill="none" stroke="#555" stroke-width="0.5"/>
<line x1="423.4" y1="205.5" x2="507.5" y2="205.5" stroke="#000" stroke-opacity="0.5" stroke-width="0.85"/>
<text x="448.5" y="152" class="mk">MX</text>
<text x="508" y="203.8" class="mk">MN</text>
<rect x="538.1" y="157.6" width="3.7" height="11.47" fill="#0000ff"/>
<rect x="538.1" y="168.77" width="3.7" height="11.47" fill="#00b2ff"/>
<rect x="538.1" y="179.94" width="3.7" height="11.47" fill="#00ffff"/>
<rect x="538.1" y="191.11" width="3.7" height="11.47" fill="#00ffb2"/>
<rect x="538.1" y="202.28" width="3.7" height="11.47" fill="#00ff00"/>
<rect x="538.1" y="213.45" width="3.7" height="11.47" fill="#8aff00"/>
<rect x="538.1" y="224.62" width="3.7" height="11.47" fill="#ffff00"/>
<rect x="538.1" y="235.79" width="3.7" height="11.47" fill="#ffb200"/>
<rect x="538.1" y="246.96" width="3.7" height="11.47" fill="#ff0000"/>
<text transform="scale(1.12,1)" x="459.71 463.24 466.76 470.29 473.82 477.34" y="155.27" class="lab" font-size="6.35" fill="#585858">-.0092</text>
<text transform="scale(1.12,1)" x="459.71 463.24 466.76 470.29 473.82 477.34" y="166.6" class="lab" font-size="6.35" fill="#585858">-.0044</text>
<text transform="scale(1.12,1)" x="463.24 466.76 470.29 473.82 477.34" y="177.92" class="lab" font-size="6.35" fill="#585858">.0005</text>
<text transform="scale(1.12,1)" x="463.24 466.76 470.29 473.82 477.34" y="189.24" class="lab" font-size="6.35" fill="#585858">.0053</text>
<text transform="scale(1.12,1)" x="463.24 466.76 470.29 473.82 477.34" y="200.56" class="lab" font-size="6.35" fill="#585858">.0102</text>
<text transform="scale(1.12,1)" x="466.76 470.29 473.82 477.34" y="211.88" class="lab" font-size="6.35" fill="#585858">.015</text>
<text transform="scale(1.12,1)" x="463.24 466.76 470.29 473.82 477.34" y="223.21" class="lab" font-size="6.35" fill="#585858">.0199</text>
<text transform="scale(1.12,1)" x="463.24 466.76 470.29 473.82 477.34" y="234.53" class="lab" font-size="6.35" fill="#585858">.0247</text>
<text transform="scale(1.12,1)" x="463.24 466.76 470.29 473.82 477.34" y="245.85" class="lab" font-size="6.35" fill="#585858">.0295</text>
<text transform="scale(1.12,1)" x="463.24 466.76 470.29 473.82 477.34" y="257.17" class="lab" font-size="6.35" fill="#585858">.0344</text>
<text y="271.5" class="cap" style="font-size:11.7px"><tspan x="446.7" class="it">T</tspan><tspan x="458.1" textLength="8" lengthAdjust="spacingAndGlyphs">=</tspan><tspan x="469.9" textLength="16.65" lengthAdjust="spacingAndGlyphs">260</tspan><tspan x="487.15" textLength="12" lengthAdjust="spacingAndGlyphs">°C</tspan></text>
</g>
</svg>
</body></html>
